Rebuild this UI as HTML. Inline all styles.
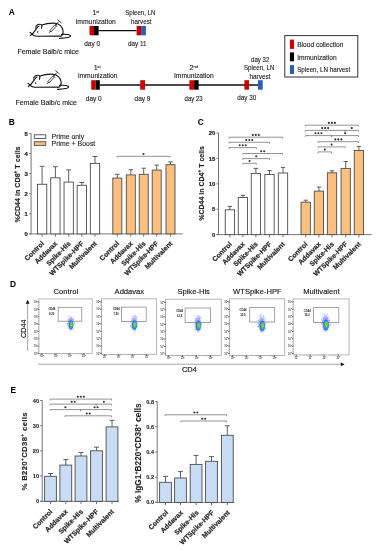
<!DOCTYPE html>
<html><head><meta charset="utf-8"><style>
html,body{margin:0;padding:0;background:#fff;width:377px;height:550px;overflow:hidden;}
svg{display:block;font-family:"Liberation Sans",sans-serif;will-change:transform;}
</style></head><body>
<svg width="377" height="550" viewBox="0 0 377 550">
<text x="8.70" y="14.60" font-size="8.4" font-weight="bold" text-anchor="start" fill="#000" font-family="Liberation Sans" >A</text>
<g transform="translate(0.00,0.00)" fill="none" stroke="#111" stroke-width="1.1" stroke-linecap="round" stroke-linejoin="round"><path d="M32.2,34.3 L36.3,28.9"/><path d="M36.3,28.9 C35.4,27.8 35.8,25.6 37.6,24.7 C39.2,23.9 41.2,24.2 41.8,25.4 C42.0,26.4 41.7,27.4 41.5,28.3"/><path d="M37.2,27.9 C37.5,26.9 38.2,26.2 39.1,26.0"/><path d="M42.0,25.0 C45.5,23.6 51,23.0 55,23.2 C59.2,23.6 62.4,26.8 63.1,31.0 C63.4,33.2 63.0,34.6 61.8,35.6"/><path d="M32.2,34.3 C33.4,35.7 35,36.2 37,36.3 L61.2,36.1"/><path d="M30.0,32.4 L32.6,34.4 M30.3,35.6 L32.4,33.7"/><path d="M61.6,34.4 C64.5,34.2 68.5,34.4 70.3,35.3 C71.0,36.0 70.3,36.8 68.8,37.3 C66,38.0 62.5,38.4 59.5,38.4"/><path stroke-width="0.75" d="M49.9,30.5 L55.0,24.8 L56.4,26.0 L51.3,31.7 Z"/><path stroke-width="0.75" d="M50.6,31.1 L49.2,32.7"/><path stroke-width="0.8" d="M54.5,23.3 L57.0,25.5 M55.8,24.9 L58.6,21.8 M57.7,19.8 L61.2,22.9"/></g>
<circle cx="37.60" cy="32.00" r="0.75" fill="#111"/>
<g transform="translate(-2.00,51.00)" fill="none" stroke="#111" stroke-width="1.1" stroke-linecap="round" stroke-linejoin="round"><path d="M32.2,34.3 L36.3,28.9"/><path d="M36.3,28.9 C35.4,27.8 35.8,25.6 37.6,24.7 C39.2,23.9 41.2,24.2 41.8,25.4 C42.0,26.4 41.7,27.4 41.5,28.3"/><path d="M37.2,27.9 C37.5,26.9 38.2,26.2 39.1,26.0"/><path d="M42.0,25.0 C45.5,23.6 51,23.0 55,23.2 C59.2,23.6 62.4,26.8 63.1,31.0 C63.4,33.2 63.0,34.6 61.8,35.6"/><path d="M32.2,34.3 C33.4,35.7 35,36.2 37,36.3 L61.2,36.1"/><path d="M30.0,32.4 L32.6,34.4 M30.3,35.6 L32.4,33.7"/><path d="M61.6,34.4 C64.5,34.2 68.5,34.4 70.3,35.3 C71.0,36.0 70.3,36.8 68.8,37.3 C66,38.0 62.5,38.4 59.5,38.4"/><path stroke-width="0.75" d="M49.9,30.5 L55.0,24.8 L56.4,26.0 L51.3,31.7 Z"/><path stroke-width="0.75" d="M50.6,31.1 L49.2,32.7"/><path stroke-width="0.8" d="M54.5,23.3 L57.0,25.5 M55.8,24.9 L58.6,21.8 M57.7,19.8 L61.2,22.9"/></g>
<circle cx="35.60" cy="83.00" r="0.75" fill="#111"/>
<text x="17.40" y="54.30" font-size="7.5" font-weight="normal" text-anchor="start" fill="#1a1a1a" font-family="Liberation Sans" stroke="#1a1a1a" stroke-width="0.12" textLength="61.60" lengthAdjust="spacingAndGlyphs" >Female Balb/c mice</text>
<text x="15.40" y="105.30" font-size="7.5" font-weight="normal" text-anchor="start" fill="#1a1a1a" font-family="Liberation Sans" stroke="#1a1a1a" stroke-width="0.12" textLength="61.60" lengthAdjust="spacingAndGlyphs" >Female Balb/c mice</text>
<line x1="98.50" y1="30.70" x2="136.60" y2="30.70" stroke="#111" stroke-width="1.3" />
<rect x="89.50" y="26.00" width="4.50" height="9.30" fill="#d00000" stroke="none" stroke-width="1" />
<rect x="94.00" y="26.00" width="4.60" height="9.30" fill="#000000" stroke="none" stroke-width="1" />
<rect x="136.60" y="26.00" width="4.50" height="9.30" fill="#d00000" stroke="none" stroke-width="1" />
<rect x="141.10" y="26.00" width="4.80" height="9.30" fill="#2d5cb0" stroke="none" stroke-width="1" />
<text x="92.40" y="15.30" font-size="7.2" font-weight="normal" text-anchor="start" fill="#1a1a1a" font-family="Liberation Sans" stroke="#1a1a1a" stroke-width="0.12" >1</text>
<text x="96.00" y="13.30" font-size="4.2" font-weight="normal" text-anchor="start" fill="#1a1a1a" font-family="Liberation Sans" stroke="#1a1a1a" stroke-width="0.1" >st</text>
<text x="75.80" y="23.90" font-size="7.2" font-weight="normal" text-anchor="start" fill="#1a1a1a" font-family="Liberation Sans" stroke="#1a1a1a" stroke-width="0.12" textLength="40.00" lengthAdjust="spacingAndGlyphs" >immunization</text>
<text x="84.20" y="45.80" font-size="7.2" font-weight="normal" text-anchor="start" fill="#1a1a1a" font-family="Liberation Sans" stroke="#1a1a1a" stroke-width="0.12" textLength="15.90" lengthAdjust="spacingAndGlyphs" >day 0</text>
<text x="125.30" y="15.30" font-size="7.2" font-weight="normal" text-anchor="start" fill="#1a1a1a" font-family="Liberation Sans" stroke="#1a1a1a" stroke-width="0.12" textLength="30.10" lengthAdjust="spacingAndGlyphs" >Spleen, LN</text>
<text x="131.00" y="23.60" font-size="7.2" font-weight="normal" text-anchor="start" fill="#1a1a1a" font-family="Liberation Sans" stroke="#1a1a1a" stroke-width="0.12" textLength="20.50" lengthAdjust="spacingAndGlyphs" >harvest</text>
<text x="128.00" y="45.80" font-size="7.2" font-weight="normal" text-anchor="start" fill="#1a1a1a" font-family="Liberation Sans" stroke="#1a1a1a" stroke-width="0.12" textLength="18.60" lengthAdjust="spacingAndGlyphs" >day 11</text>
<line x1="99.80" y1="85.00" x2="258.00" y2="85.00" stroke="#111" stroke-width="1.3" />
<rect x="91.20" y="80.20" width="4.40" height="9.50" fill="#d00000" stroke="none" stroke-width="1" />
<rect x="95.60" y="80.20" width="4.20" height="9.50" fill="#000000" stroke="none" stroke-width="1" />
<rect x="140.20" y="80.20" width="4.80" height="9.50" fill="#d00000" stroke="none" stroke-width="1" />
<rect x="189.40" y="80.20" width="4.80" height="9.50" fill="#d00000" stroke="none" stroke-width="1" />
<rect x="194.20" y="80.20" width="4.40" height="9.50" fill="#000000" stroke="none" stroke-width="1" />
<rect x="244.40" y="80.20" width="4.60" height="9.50" fill="#d00000" stroke="none" stroke-width="1" />
<rect x="257.90" y="80.20" width="4.80" height="9.50" fill="#2d5cb0" stroke="none" stroke-width="1" />
<text x="93.70" y="69.90" font-size="7.2" font-weight="normal" text-anchor="start" fill="#1a1a1a" font-family="Liberation Sans" stroke="#1a1a1a" stroke-width="0.12" >1</text>
<text x="97.30" y="68.00" font-size="4.2" font-weight="normal" text-anchor="start" fill="#1a1a1a" font-family="Liberation Sans" stroke="#1a1a1a" stroke-width="0.1" >st</text>
<text x="78.00" y="77.80" font-size="7.2" font-weight="normal" text-anchor="start" fill="#1a1a1a" font-family="Liberation Sans" stroke="#1a1a1a" stroke-width="0.12" textLength="39.50" lengthAdjust="spacingAndGlyphs" >immunization</text>
<text x="85.80" y="100.60" font-size="7.2" font-weight="normal" text-anchor="start" fill="#1a1a1a" font-family="Liberation Sans" stroke="#1a1a1a" stroke-width="0.12" textLength="15.90" lengthAdjust="spacingAndGlyphs" >day 0</text>
<text x="134.60" y="100.60" font-size="7.2" font-weight="normal" text-anchor="start" fill="#1a1a1a" font-family="Liberation Sans" stroke="#1a1a1a" stroke-width="0.12" textLength="15.90" lengthAdjust="spacingAndGlyphs" >day 9</text>
<text x="189.60" y="70.00" font-size="7.2" font-weight="normal" text-anchor="start" fill="#1a1a1a" font-family="Liberation Sans" stroke="#1a1a1a" stroke-width="0.12" >2</text>
<text x="193.40" y="68.30" font-size="4.2" font-weight="normal" text-anchor="start" fill="#1a1a1a" font-family="Liberation Sans" stroke="#1a1a1a" stroke-width="0.1" >nd</text>
<text x="174.00" y="78.00" font-size="7.2" font-weight="normal" text-anchor="start" fill="#1a1a1a" font-family="Liberation Sans" stroke="#1a1a1a" stroke-width="0.12" textLength="39.80" lengthAdjust="spacingAndGlyphs" >Immunization</text>
<text x="184.60" y="100.60" font-size="7.2" font-weight="normal" text-anchor="start" fill="#1a1a1a" font-family="Liberation Sans" stroke="#1a1a1a" stroke-width="0.12" textLength="18.00" lengthAdjust="spacingAndGlyphs" >day 23</text>
<text x="251.00" y="62.00" font-size="7.2" font-weight="normal" text-anchor="start" fill="#1a1a1a" font-family="Liberation Sans" stroke="#1a1a1a" stroke-width="0.12" textLength="18.30" lengthAdjust="spacingAndGlyphs" >day 32</text>
<text x="243.90" y="70.40" font-size="7.2" font-weight="normal" text-anchor="start" fill="#1a1a1a" font-family="Liberation Sans" stroke="#1a1a1a" stroke-width="0.12" textLength="30.50" lengthAdjust="spacingAndGlyphs" >Spleen, LN</text>
<text x="249.40" y="78.60" font-size="7.2" font-weight="normal" text-anchor="start" fill="#1a1a1a" font-family="Liberation Sans" stroke="#1a1a1a" stroke-width="0.12" textLength="21.20" lengthAdjust="spacingAndGlyphs" >harvest</text>
<text x="237.20" y="100.00" font-size="7.2" font-weight="normal" text-anchor="start" fill="#1a1a1a" font-family="Liberation Sans" stroke="#1a1a1a" stroke-width="0.12" textLength="19.10" lengthAdjust="spacingAndGlyphs" >day 30</text>
<rect x="284.80" y="35.60" width="73.00" height="41.40" fill="none" stroke="#333" stroke-width="1.0" />
<rect x="289.90" y="39.60" width="4.10" height="9.30" fill="#d00000" stroke="none" stroke-width="1" />
<rect x="289.90" y="52.40" width="4.10" height="8.90" fill="#000000" stroke="none" stroke-width="1" />
<rect x="289.90" y="65.10" width="4.10" height="8.90" fill="#2d5cb0" stroke="none" stroke-width="1" />
<text x="297.20" y="47.00" font-size="7.2" font-weight="normal" text-anchor="start" fill="#1a1a1a" font-family="Liberation Sans" stroke="#1a1a1a" stroke-width="0.12" textLength="46.20" lengthAdjust="spacingAndGlyphs" >Blood collection</text>
<text x="297.20" y="59.70" font-size="7.2" font-weight="normal" text-anchor="start" fill="#1a1a1a" font-family="Liberation Sans" stroke="#1a1a1a" stroke-width="0.12" textLength="39.50" lengthAdjust="spacingAndGlyphs" >Immunization</text>
<text x="297.20" y="72.40" font-size="7.2" font-weight="normal" text-anchor="start" fill="#1a1a1a" font-family="Liberation Sans" stroke="#1a1a1a" stroke-width="0.12" textLength="53.00" lengthAdjust="spacingAndGlyphs" >Spleen, LN harvest</text>
<text x="8.80" y="124.80" font-size="8.4" font-weight="bold" text-anchor="start" fill="#000" font-family="Liberation Sans" >B</text>
<line x1="31.10" y1="133.30" x2="31.10" y2="233.90" stroke="#666" stroke-width="0.9" />
<line x1="29.10" y1="233.90" x2="31.10" y2="233.90" stroke="#666" stroke-width="0.9" />
<text x="27.90" y="236.02" font-size="5.9" font-weight="bold" text-anchor="end" fill="#262626" font-family="Liberation Sans" stroke="#262626" stroke-width="0.22" >0</text>
<line x1="29.10" y1="213.80" x2="31.10" y2="213.80" stroke="#666" stroke-width="0.9" />
<text x="27.90" y="215.92" font-size="5.9" font-weight="bold" text-anchor="end" fill="#262626" font-family="Liberation Sans" stroke="#262626" stroke-width="0.22" >1</text>
<line x1="29.10" y1="193.70" x2="31.10" y2="193.70" stroke="#666" stroke-width="0.9" />
<text x="27.90" y="195.82" font-size="5.9" font-weight="bold" text-anchor="end" fill="#262626" font-family="Liberation Sans" stroke="#262626" stroke-width="0.22" >2</text>
<line x1="29.10" y1="173.60" x2="31.10" y2="173.60" stroke="#666" stroke-width="0.9" />
<text x="27.90" y="175.72" font-size="5.9" font-weight="bold" text-anchor="end" fill="#262626" font-family="Liberation Sans" stroke="#262626" stroke-width="0.22" >3</text>
<line x1="29.10" y1="153.50" x2="31.10" y2="153.50" stroke="#666" stroke-width="0.9" />
<text x="27.90" y="155.62" font-size="5.9" font-weight="bold" text-anchor="end" fill="#262626" font-family="Liberation Sans" stroke="#262626" stroke-width="0.22" >4</text>
<line x1="29.10" y1="133.40" x2="31.10" y2="133.40" stroke="#666" stroke-width="0.9" />
<text x="27.90" y="135.52" font-size="5.9" font-weight="bold" text-anchor="end" fill="#262626" font-family="Liberation Sans" stroke="#262626" stroke-width="0.22" >5</text>
<line x1="29.30" y1="233.90" x2="182.80" y2="233.90" stroke="#666" stroke-width="0.9" />
<line x1="42.10" y1="184.30" x2="42.10" y2="166.30" stroke="#4d4d4d" stroke-width="0.9" />
<line x1="39.70" y1="166.30" x2="44.50" y2="166.30" stroke="#4d4d4d" stroke-width="0.9" />
<rect x="37.45" y="184.30" width="9.30" height="49.60" fill="#fff" stroke="#4d4d4d" stroke-width="0.9" />
<line x1="55.40" y1="177.80" x2="55.40" y2="166.70" stroke="#4d4d4d" stroke-width="0.9" />
<line x1="53.00" y1="166.70" x2="57.80" y2="166.70" stroke="#4d4d4d" stroke-width="0.9" />
<rect x="50.75" y="177.80" width="9.30" height="56.10" fill="#fff" stroke="#4d4d4d" stroke-width="0.9" />
<line x1="68.70" y1="182.10" x2="68.70" y2="169.90" stroke="#4d4d4d" stroke-width="0.9" />
<line x1="66.30" y1="169.90" x2="71.10" y2="169.90" stroke="#4d4d4d" stroke-width="0.9" />
<rect x="64.05" y="182.10" width="9.30" height="51.80" fill="#fff" stroke="#4d4d4d" stroke-width="0.9" />
<line x1="81.80" y1="185.30" x2="81.80" y2="182.50" stroke="#4d4d4d" stroke-width="0.9" />
<line x1="79.40" y1="182.50" x2="84.20" y2="182.50" stroke="#4d4d4d" stroke-width="0.9" />
<rect x="77.15" y="185.30" width="9.30" height="48.60" fill="#fff" stroke="#4d4d4d" stroke-width="0.9" />
<line x1="95.00" y1="163.40" x2="95.00" y2="156.50" stroke="#4d4d4d" stroke-width="0.9" />
<line x1="92.60" y1="156.50" x2="97.40" y2="156.50" stroke="#4d4d4d" stroke-width="0.9" />
<rect x="90.35" y="163.40" width="9.30" height="70.50" fill="#fff" stroke="#4d4d4d" stroke-width="0.9" />
<line x1="117.30" y1="178.10" x2="117.30" y2="174.30" stroke="#4d4d4d" stroke-width="0.9" />
<line x1="115.10" y1="174.30" x2="119.50" y2="174.30" stroke="#4d4d4d" stroke-width="0.9" />
<rect x="112.80" y="178.10" width="9.00" height="55.80" fill="#fbbf7f" stroke="#4d4d4d" stroke-width="0.9" />
<line x1="130.80" y1="174.90" x2="130.80" y2="169.70" stroke="#4d4d4d" stroke-width="0.9" />
<line x1="128.60" y1="169.70" x2="133.00" y2="169.70" stroke="#4d4d4d" stroke-width="0.9" />
<rect x="126.30" y="174.90" width="9.00" height="59.00" fill="#fbbf7f" stroke="#4d4d4d" stroke-width="0.9" />
<line x1="143.70" y1="174.30" x2="143.70" y2="168.20" stroke="#4d4d4d" stroke-width="0.9" />
<line x1="141.50" y1="168.20" x2="145.90" y2="168.20" stroke="#4d4d4d" stroke-width="0.9" />
<rect x="139.20" y="174.30" width="9.00" height="59.60" fill="#fbbf7f" stroke="#4d4d4d" stroke-width="0.9" />
<line x1="156.70" y1="170.10" x2="156.70" y2="165.10" stroke="#4d4d4d" stroke-width="0.9" />
<line x1="154.50" y1="165.10" x2="158.90" y2="165.10" stroke="#4d4d4d" stroke-width="0.9" />
<rect x="152.20" y="170.10" width="9.00" height="63.80" fill="#fbbf7f" stroke="#4d4d4d" stroke-width="0.9" />
<line x1="170.50" y1="164.70" x2="170.50" y2="161.90" stroke="#4d4d4d" stroke-width="0.9" />
<line x1="168.30" y1="161.90" x2="172.70" y2="161.90" stroke="#4d4d4d" stroke-width="0.9" />
<rect x="166.00" y="164.70" width="9.00" height="69.20" fill="#fbbf7f" stroke="#4d4d4d" stroke-width="0.9" />
<line x1="42.10" y1="233.90" x2="42.10" y2="236.70" stroke="#666" stroke-width="0.9" />
<line x1="55.40" y1="233.90" x2="55.40" y2="236.70" stroke="#666" stroke-width="0.9" />
<line x1="68.70" y1="233.90" x2="68.70" y2="236.70" stroke="#666" stroke-width="0.9" />
<line x1="81.80" y1="233.90" x2="81.80" y2="236.70" stroke="#666" stroke-width="0.9" />
<line x1="95.00" y1="233.90" x2="95.00" y2="236.70" stroke="#666" stroke-width="0.9" />
<line x1="117.30" y1="233.90" x2="117.30" y2="236.70" stroke="#666" stroke-width="0.9" />
<line x1="130.80" y1="233.90" x2="130.80" y2="236.70" stroke="#666" stroke-width="0.9" />
<line x1="143.70" y1="233.90" x2="143.70" y2="236.70" stroke="#666" stroke-width="0.9" />
<line x1="156.70" y1="233.90" x2="156.70" y2="236.70" stroke="#666" stroke-width="0.9" />
<line x1="170.50" y1="233.90" x2="170.50" y2="236.70" stroke="#666" stroke-width="0.9" />
<text x="44.50" y="244.00" font-size="6.9" font-weight="bold" text-anchor="end" fill="#262626" font-family="Liberation Sans" stroke="#262626" stroke-width="0.2" transform="rotate(-45 44.50 244.00)" >Control</text>
<text x="57.80" y="244.00" font-size="6.9" font-weight="bold" text-anchor="end" fill="#262626" font-family="Liberation Sans" stroke="#262626" stroke-width="0.2" transform="rotate(-45 57.80 244.00)" >Addavax</text>
<text x="71.10" y="244.00" font-size="6.9" font-weight="bold" text-anchor="end" fill="#262626" font-family="Liberation Sans" stroke="#262626" stroke-width="0.2" transform="rotate(-45 71.10 244.00)" >Spike-His</text>
<text x="84.20" y="244.00" font-size="6.9" font-weight="bold" text-anchor="end" fill="#262626" font-family="Liberation Sans" stroke="#262626" stroke-width="0.2" transform="rotate(-45 84.20 244.00)" >WTSpike-HPF</text>
<text x="97.40" y="244.00" font-size="6.9" font-weight="bold" text-anchor="end" fill="#262626" font-family="Liberation Sans" stroke="#262626" stroke-width="0.2" transform="rotate(-45 97.40 244.00)" >Multivalent</text>
<text x="119.70" y="244.00" font-size="6.9" font-weight="bold" text-anchor="end" fill="#262626" font-family="Liberation Sans" stroke="#262626" stroke-width="0.2" transform="rotate(-45 119.70 244.00)" >Control</text>
<text x="133.20" y="244.00" font-size="6.9" font-weight="bold" text-anchor="end" fill="#262626" font-family="Liberation Sans" stroke="#262626" stroke-width="0.2" transform="rotate(-45 133.20 244.00)" >Addavax</text>
<text x="146.10" y="244.00" font-size="6.9" font-weight="bold" text-anchor="end" fill="#262626" font-family="Liberation Sans" stroke="#262626" stroke-width="0.2" transform="rotate(-45 146.10 244.00)" >Spike-His</text>
<text x="159.10" y="244.00" font-size="6.9" font-weight="bold" text-anchor="end" fill="#262626" font-family="Liberation Sans" stroke="#262626" stroke-width="0.2" transform="rotate(-45 159.10 244.00)" >WTSpike-HPF</text>
<text x="172.90" y="244.00" font-size="6.9" font-weight="bold" text-anchor="end" fill="#262626" font-family="Liberation Sans" stroke="#262626" stroke-width="0.2" transform="rotate(-45 172.90 244.00)" >Multivalent</text>
<path d="M117.00,157.60 L117.00,156.30 L170.00,156.30 L170.00,157.60" fill="none" stroke="#666" stroke-width="0.7"/>
<circle cx="143.50" cy="154.00" r="1.05" fill="#333"/>
<rect x="34.30" y="134.80" width="11.50" height="3.70" fill="#fff" stroke="#4d4d4d" stroke-width="0.9" />
<rect x="34.30" y="141.70" width="11.50" height="3.70" fill="#fbbf7f" stroke="#4d4d4d" stroke-width="0.9" />
<text x="51.60" y="138.90" font-size="6.9" font-weight="normal" text-anchor="start" fill="#262626" font-family="Liberation Sans" stroke="#262626" stroke-width="0.12" textLength="32.50" lengthAdjust="spacingAndGlyphs" >Prime only</text>
<text x="51.60" y="145.50" font-size="6.9" font-weight="normal" text-anchor="start" fill="#262626" font-family="Liberation Sans" stroke="#262626" stroke-width="0.12" textLength="43.70" lengthAdjust="spacingAndGlyphs" >Prime + Boost</text>
<text x="20.00" y="184.50" font-size="7.15" font-weight="bold" text-anchor="middle" fill="#262626" font-family="Liberation Sans" stroke="#262626" stroke-width="0.15" transform="rotate(-90 20.00 184.50)" >%CD44 in CD8<tspan font-size="4.7" dy="-2.7">+</tspan><tspan dy="2.7"> T cells</tspan></text>
<text x="197.70" y="124.80" font-size="8.4" font-weight="bold" text-anchor="start" fill="#000" font-family="Liberation Sans" >C</text>
<line x1="218.50" y1="133.00" x2="218.50" y2="234.60" stroke="#666" stroke-width="0.9" />
<line x1="216.50" y1="234.60" x2="218.50" y2="234.60" stroke="#666" stroke-width="0.9" />
<text x="215.30" y="236.72" font-size="5.9" font-weight="bold" text-anchor="end" fill="#262626" font-family="Liberation Sans" stroke="#262626" stroke-width="0.22" >0</text>
<line x1="216.50" y1="209.20" x2="218.50" y2="209.20" stroke="#666" stroke-width="0.9" />
<text x="215.30" y="211.32" font-size="5.9" font-weight="bold" text-anchor="end" fill="#262626" font-family="Liberation Sans" stroke="#262626" stroke-width="0.22" >5</text>
<line x1="216.50" y1="183.80" x2="218.50" y2="183.80" stroke="#666" stroke-width="0.9" />
<text x="215.30" y="185.92" font-size="5.9" font-weight="bold" text-anchor="end" fill="#262626" font-family="Liberation Sans" stroke="#262626" stroke-width="0.22" >10</text>
<line x1="216.50" y1="158.40" x2="218.50" y2="158.40" stroke="#666" stroke-width="0.9" />
<text x="215.30" y="160.52" font-size="5.9" font-weight="bold" text-anchor="end" fill="#262626" font-family="Liberation Sans" stroke="#262626" stroke-width="0.22" >15</text>
<line x1="216.50" y1="133.00" x2="218.50" y2="133.00" stroke="#666" stroke-width="0.9" />
<text x="215.30" y="135.12" font-size="5.9" font-weight="bold" text-anchor="end" fill="#262626" font-family="Liberation Sans" stroke="#262626" stroke-width="0.22" >20</text>
<line x1="216.50" y1="234.60" x2="371.60" y2="234.60" stroke="#666" stroke-width="0.9" />
<line x1="229.90" y1="209.80" x2="229.90" y2="206.40" stroke="#4d4d4d" stroke-width="0.9" />
<line x1="227.70" y1="206.40" x2="232.10" y2="206.40" stroke="#4d4d4d" stroke-width="0.9" />
<rect x="225.25" y="209.80" width="9.30" height="24.80" fill="#fff" stroke="#4d4d4d" stroke-width="0.9" />
<line x1="242.90" y1="197.50" x2="242.90" y2="195.30" stroke="#4d4d4d" stroke-width="0.9" />
<line x1="240.70" y1="195.30" x2="245.10" y2="195.30" stroke="#4d4d4d" stroke-width="0.9" />
<rect x="238.25" y="197.50" width="9.30" height="37.10" fill="#fff" stroke="#4d4d4d" stroke-width="0.9" />
<line x1="255.90" y1="173.40" x2="255.90" y2="168.40" stroke="#4d4d4d" stroke-width="0.9" />
<line x1="253.70" y1="168.40" x2="258.10" y2="168.40" stroke="#4d4d4d" stroke-width="0.9" />
<rect x="251.25" y="173.40" width="9.30" height="61.20" fill="#fff" stroke="#4d4d4d" stroke-width="0.9" />
<line x1="269.50" y1="174.50" x2="269.50" y2="170.60" stroke="#4d4d4d" stroke-width="0.9" />
<line x1="267.30" y1="170.60" x2="271.70" y2="170.60" stroke="#4d4d4d" stroke-width="0.9" />
<rect x="264.85" y="174.50" width="9.30" height="60.10" fill="#fff" stroke="#4d4d4d" stroke-width="0.9" />
<line x1="283.00" y1="173.00" x2="283.00" y2="167.40" stroke="#4d4d4d" stroke-width="0.9" />
<line x1="280.80" y1="167.40" x2="285.20" y2="167.40" stroke="#4d4d4d" stroke-width="0.9" />
<rect x="278.35" y="173.00" width="9.30" height="61.60" fill="#fff" stroke="#4d4d4d" stroke-width="0.9" />
<line x1="305.70" y1="202.20" x2="305.70" y2="200.20" stroke="#4d4d4d" stroke-width="0.9" />
<line x1="303.50" y1="200.20" x2="307.90" y2="200.20" stroke="#4d4d4d" stroke-width="0.9" />
<rect x="301.05" y="202.20" width="9.30" height="32.40" fill="#fbbf7f" stroke="#4d4d4d" stroke-width="0.9" />
<line x1="318.90" y1="191.10" x2="318.90" y2="187.10" stroke="#4d4d4d" stroke-width="0.9" />
<line x1="316.70" y1="187.10" x2="321.10" y2="187.10" stroke="#4d4d4d" stroke-width="0.9" />
<rect x="314.25" y="191.10" width="9.30" height="43.50" fill="#fbbf7f" stroke="#4d4d4d" stroke-width="0.9" />
<line x1="332.00" y1="172.80" x2="332.00" y2="170.80" stroke="#4d4d4d" stroke-width="0.9" />
<line x1="329.80" y1="170.80" x2="334.20" y2="170.80" stroke="#4d4d4d" stroke-width="0.9" />
<rect x="327.35" y="172.80" width="9.30" height="61.80" fill="#fbbf7f" stroke="#4d4d4d" stroke-width="0.9" />
<line x1="345.70" y1="168.40" x2="345.70" y2="161.50" stroke="#4d4d4d" stroke-width="0.9" />
<line x1="343.50" y1="161.50" x2="347.90" y2="161.50" stroke="#4d4d4d" stroke-width="0.9" />
<rect x="341.05" y="168.40" width="9.30" height="66.20" fill="#fbbf7f" stroke="#4d4d4d" stroke-width="0.9" />
<line x1="358.90" y1="150.50" x2="358.90" y2="146.40" stroke="#4d4d4d" stroke-width="0.9" />
<line x1="356.70" y1="146.40" x2="361.10" y2="146.40" stroke="#4d4d4d" stroke-width="0.9" />
<rect x="354.25" y="150.50" width="9.30" height="84.10" fill="#fbbf7f" stroke="#4d4d4d" stroke-width="0.9" />
<line x1="229.90" y1="234.60" x2="229.90" y2="237.40" stroke="#666" stroke-width="0.9" />
<line x1="242.90" y1="234.60" x2="242.90" y2="237.40" stroke="#666" stroke-width="0.9" />
<line x1="255.90" y1="234.60" x2="255.90" y2="237.40" stroke="#666" stroke-width="0.9" />
<line x1="269.50" y1="234.60" x2="269.50" y2="237.40" stroke="#666" stroke-width="0.9" />
<line x1="283.00" y1="234.60" x2="283.00" y2="237.40" stroke="#666" stroke-width="0.9" />
<line x1="305.70" y1="234.60" x2="305.70" y2="237.40" stroke="#666" stroke-width="0.9" />
<line x1="318.90" y1="234.60" x2="318.90" y2="237.40" stroke="#666" stroke-width="0.9" />
<line x1="332.00" y1="234.60" x2="332.00" y2="237.40" stroke="#666" stroke-width="0.9" />
<line x1="345.70" y1="234.60" x2="345.70" y2="237.40" stroke="#666" stroke-width="0.9" />
<line x1="358.90" y1="234.60" x2="358.90" y2="237.40" stroke="#666" stroke-width="0.9" />
<text x="232.30" y="244.60" font-size="6.9" font-weight="bold" text-anchor="end" fill="#262626" font-family="Liberation Sans" stroke="#262626" stroke-width="0.2" transform="rotate(-45 232.30 244.60)" >Control</text>
<text x="245.30" y="244.60" font-size="6.9" font-weight="bold" text-anchor="end" fill="#262626" font-family="Liberation Sans" stroke="#262626" stroke-width="0.2" transform="rotate(-45 245.30 244.60)" >Addavax</text>
<text x="258.30" y="244.60" font-size="6.9" font-weight="bold" text-anchor="end" fill="#262626" font-family="Liberation Sans" stroke="#262626" stroke-width="0.2" transform="rotate(-45 258.30 244.60)" >Spike-His</text>
<text x="271.90" y="244.60" font-size="6.9" font-weight="bold" text-anchor="end" fill="#262626" font-family="Liberation Sans" stroke="#262626" stroke-width="0.2" transform="rotate(-45 271.90 244.60)" >WTSpike-HPF</text>
<text x="285.40" y="244.60" font-size="6.9" font-weight="bold" text-anchor="end" fill="#262626" font-family="Liberation Sans" stroke="#262626" stroke-width="0.2" transform="rotate(-45 285.40 244.60)" >Multivalent</text>
<text x="308.10" y="244.60" font-size="6.9" font-weight="bold" text-anchor="end" fill="#262626" font-family="Liberation Sans" stroke="#262626" stroke-width="0.2" transform="rotate(-45 308.10 244.60)" >Control</text>
<text x="321.30" y="244.60" font-size="6.9" font-weight="bold" text-anchor="end" fill="#262626" font-family="Liberation Sans" stroke="#262626" stroke-width="0.2" transform="rotate(-45 321.30 244.60)" >Addavax</text>
<text x="334.40" y="244.60" font-size="6.9" font-weight="bold" text-anchor="end" fill="#262626" font-family="Liberation Sans" stroke="#262626" stroke-width="0.2" transform="rotate(-45 334.40 244.60)" >Spike-His</text>
<text x="348.10" y="244.60" font-size="6.9" font-weight="bold" text-anchor="end" fill="#262626" font-family="Liberation Sans" stroke="#262626" stroke-width="0.2" transform="rotate(-45 348.10 244.60)" >WTSpike-HPF</text>
<text x="361.30" y="244.60" font-size="6.9" font-weight="bold" text-anchor="end" fill="#262626" font-family="Liberation Sans" stroke="#262626" stroke-width="0.2" transform="rotate(-45 361.30 244.60)" >Multivalent</text>
<path d="M229.00,138.50 L229.00,137.20 L282.60,137.20 L282.60,138.50" fill="none" stroke="#666" stroke-width="0.7"/>
<circle cx="252.80" cy="134.90" r="1.05" fill="#333"/>
<circle cx="255.80" cy="134.90" r="1.05" fill="#333"/>
<circle cx="258.80" cy="134.90" r="1.05" fill="#333"/>
<path d="M229.00,143.60 L229.00,142.30 L269.60,142.30 L269.60,143.60" fill="none" stroke="#666" stroke-width="0.7"/>
<circle cx="246.30" cy="140.00" r="1.05" fill="#333"/>
<circle cx="249.30" cy="140.00" r="1.05" fill="#333"/>
<circle cx="252.30" cy="140.00" r="1.05" fill="#333"/>
<path d="M229.00,148.90 L229.00,147.60 L256.40,147.60 L256.40,148.90" fill="none" stroke="#666" stroke-width="0.7"/>
<circle cx="239.70" cy="145.30" r="1.05" fill="#333"/>
<circle cx="242.70" cy="145.30" r="1.05" fill="#333"/>
<circle cx="245.70" cy="145.30" r="1.05" fill="#333"/>
<path d="M242.80,154.80 L242.80,153.50 L282.60,153.50 L282.60,154.80" fill="none" stroke="#666" stroke-width="0.7"/>
<circle cx="261.20" cy="151.20" r="1.05" fill="#333"/>
<circle cx="264.20" cy="151.20" r="1.05" fill="#333"/>
<path d="M242.80,159.90 L242.80,158.60 L269.60,158.60 L269.60,159.90" fill="none" stroke="#666" stroke-width="0.7"/>
<circle cx="256.20" cy="156.30" r="1.05" fill="#333"/>
<path d="M242.80,164.60 L242.80,163.30 L256.40,163.30 L256.40,164.60" fill="none" stroke="#666" stroke-width="0.7"/>
<circle cx="249.60" cy="161.00" r="1.05" fill="#333"/>
<path d="M305.20,126.50 L305.20,125.20 L358.60,125.20 L358.60,126.50" fill="none" stroke="#666" stroke-width="0.7"/>
<circle cx="328.90" cy="122.90" r="1.05" fill="#333"/>
<circle cx="331.90" cy="122.90" r="1.05" fill="#333"/>
<circle cx="334.90" cy="122.90" r="1.05" fill="#333"/>
<path d="M305.20,131.70 L305.20,130.40 L345.00,130.40 L345.00,131.70" fill="none" stroke="#666" stroke-width="0.7"/>
<circle cx="322.10" cy="128.10" r="1.05" fill="#333"/>
<circle cx="325.10" cy="128.10" r="1.05" fill="#333"/>
<circle cx="328.10" cy="128.10" r="1.05" fill="#333"/>
<path d="M345.00,131.70 L345.00,130.40 L358.60,130.40 L358.60,131.70" fill="none" stroke="#666" stroke-width="0.7"/>
<circle cx="351.80" cy="128.10" r="1.05" fill="#333"/>
<path d="M305.20,136.90 L305.20,135.60 L331.60,135.60 L331.60,136.90" fill="none" stroke="#666" stroke-width="0.7"/>
<circle cx="315.40" cy="133.30" r="1.05" fill="#333"/>
<circle cx="318.40" cy="133.30" r="1.05" fill="#333"/>
<circle cx="321.40" cy="133.30" r="1.05" fill="#333"/>
<path d="M331.60,136.90 L331.60,135.60 L358.60,135.60 L358.60,136.90" fill="none" stroke="#666" stroke-width="0.7"/>
<circle cx="345.10" cy="133.30" r="1.05" fill="#333"/>
<path d="M318.10,143.00 L318.10,141.70 L358.60,141.70 L358.60,143.00" fill="none" stroke="#666" stroke-width="0.7"/>
<circle cx="335.35" cy="139.40" r="1.05" fill="#333"/>
<circle cx="338.35" cy="139.40" r="1.05" fill="#333"/>
<circle cx="341.35" cy="139.40" r="1.05" fill="#333"/>
<path d="M318.10,148.20 L318.10,146.90 L345.20,146.90 L345.20,148.20" fill="none" stroke="#666" stroke-width="0.7"/>
<circle cx="331.65" cy="144.60" r="1.05" fill="#333"/>
<path d="M318.10,153.20 L318.10,151.90 L331.60,151.90 L331.60,153.20" fill="none" stroke="#666" stroke-width="0.7"/>
<circle cx="324.85" cy="149.60" r="1.05" fill="#333"/>
<text x="204.00" y="183.40" font-size="7.0" font-weight="bold" text-anchor="middle" fill="#262626" font-family="Liberation Sans" stroke="#262626" stroke-width="0.15" transform="rotate(-90 204.00 183.40)" >%CD44 in CD4<tspan font-size="4.7" dy="-2.7">+</tspan><tspan dy="2.7"> T cells</tspan></text>
<text x="10.10" y="286.90" font-size="8.4" font-weight="bold" text-anchor="start" fill="#000" font-family="Liberation Sans" >D</text>
<defs><filter id="bl" x="-50%" y="-50%" width="200%" height="200%"><feGaussianBlur stdDeviation="0.55"/></filter><filter id="bl2" x="-50%" y="-50%" width="200%" height="200%"><feGaussianBlur stdDeviation="1.0"/></filter></defs>
<rect x="38.90" y="298.90" width="53.30" height="54.70" fill="#fff" stroke="#b0b0b0" stroke-width="0.9" />
<text x="65.85" y="294.40" font-size="7.6" font-weight="normal" text-anchor="middle" fill="#111" font-family="Liberation Sans" stroke="#111" stroke-width="0.12" >Control</text>
<rect x="58.20" y="307.30" width="23.60" height="13.90" fill="none" stroke="#8a8a8a" stroke-width="0.8" />
<g transform="translate(71.30,324.40) scale(0.9)"><circle cx="-2.49" cy="1.79" r="0.51" fill="#2080ff" opacity="0.51"/><circle cx="-0.78" cy="5.37" r="0.58" fill="#7070ff" opacity="0.29"/><circle cx="0.42" cy="-5.96" r="0.53" fill="#5060ff" opacity="0.64"/><circle cx="0.17" cy="1.66" r="0.32" fill="#5060ff" opacity="0.29"/><circle cx="-3.95" cy="0.92" r="0.48" fill="#2080ff" opacity="0.64"/><circle cx="0.31" cy="-7.82" r="0.43" fill="#3050ff" opacity="0.28"/><circle cx="0.29" cy="3.84" r="0.57" fill="#7070ff" opacity="0.64"/><circle cx="2.30" cy="4.24" r="0.33" fill="#3050ff" opacity="0.31"/><circle cx="-2.00" cy="0.45" r="0.35" fill="#2080ff" opacity="0.44"/><circle cx="-2.54" cy="5.40" r="0.51" fill="#5060ff" opacity="0.49"/><circle cx="2.25" cy="-4.75" r="0.54" fill="#7070ff" opacity="0.57"/><circle cx="-3.92" cy="3.74" r="0.50" fill="#2080ff" opacity="0.55"/><circle cx="1.57" cy="0.04" r="0.34" fill="#2080ff" opacity="0.43"/><circle cx="-2.45" cy="-1.93" r="0.34" fill="#3050ff" opacity="0.47"/><circle cx="0.61" cy="1.90" r="0.48" fill="#3050ff" opacity="0.42"/><circle cx="-3.30" cy="2.29" r="0.48" fill="#7070ff" opacity="0.32"/><circle cx="-1.74" cy="-4.79" r="0.58" fill="#5060ff" opacity="0.61"/><circle cx="2.58" cy="-5.51" r="0.43" fill="#5060ff" opacity="0.48"/><circle cx="-2.80" cy="0.83" r="0.55" fill="#5060ff" opacity="0.44"/><circle cx="-4.05" cy="-0.86" r="0.56" fill="#3050ff" opacity="0.56"/><circle cx="-4.14" cy="-3.21" r="0.34" fill="#2080ff" opacity="0.61"/><circle cx="-4.42" cy="-4.06" r="0.32" fill="#3050ff" opacity="0.44"/><circle cx="-2.00" cy="-0.07" r="0.57" fill="#2080ff" opacity="0.32"/><circle cx="2.70" cy="-3.76" r="0.39" fill="#7070ff" opacity="0.30"/><circle cx="3.56" cy="-0.35" r="0.33" fill="#2080ff" opacity="0.59"/><circle cx="-2.18" cy="6.56" r="0.43" fill="#3050ff" opacity="0.55"/><circle cx="2.44" cy="4.20" r="0.44" fill="#3050ff" opacity="0.33"/><circle cx="3.49" cy="-2.29" r="0.39" fill="#5060ff" opacity="0.63"/><circle cx="-2.05" cy="2.94" r="0.41" fill="#3050ff" opacity="0.44"/><circle cx="-0.14" cy="3.33" r="0.52" fill="#2080ff" opacity="0.38"/><circle cx="3.62" cy="-0.84" r="0.45" fill="#7070ff" opacity="0.54"/><circle cx="-3.49" cy="-1.17" r="0.50" fill="#3050ff" opacity="0.43"/><circle cx="-3.46" cy="1.23" r="0.34" fill="#7070ff" opacity="0.55"/><circle cx="-1.53" cy="6.63" r="0.33" fill="#5060ff" opacity="0.30"/><circle cx="-3.21" cy="-3.45" r="0.58" fill="#2080ff" opacity="0.63"/><circle cx="-4.04" cy="-4.34" r="0.37" fill="#2080ff" opacity="0.37"/><circle cx="-1.55" cy="3.59" r="0.44" fill="#5060ff" opacity="0.33"/><circle cx="-3.19" cy="-5.33" r="0.35" fill="#5060ff" opacity="0.61"/><circle cx="-2.32" cy="-9.12" r="0.47" fill="#3050ff" opacity="0.63"/><circle cx="-2.52" cy="2.11" r="0.54" fill="#2080ff" opacity="0.26"/><circle cx="-0.18" cy="-5.72" r="0.46" fill="#8080ff" opacity="0.60"/><circle cx="3.69" cy="0.04" r="0.41" fill="#3050ff" opacity="0.62"/><circle cx="-3.36" cy="-5.68" r="0.57" fill="#7070ff" opacity="0.27"/><circle cx="0.56" cy="-6.42" r="0.48" fill="#3050ff" opacity="0.57"/><circle cx="2.97" cy="-4.88" r="0.55" fill="#3050ff" opacity="0.44"/><circle cx="1.21" cy="0.92" r="0.30" fill="#3050ff" opacity="0.47"/><circle cx="-4.14" cy="-3.19" r="0.43" fill="#8080ff" opacity="0.39"/><circle cx="3.60" cy="-1.57" r="0.45" fill="#5060ff" opacity="0.53"/><circle cx="2.16" cy="-5.86" r="0.39" fill="#2080ff" opacity="0.58"/><circle cx="1.18" cy="-2.98" r="0.46" fill="#5060ff" opacity="0.41"/><circle cx="-3.34" cy="-3.09" r="0.49" fill="#2080ff" opacity="0.58"/><circle cx="-0.51" cy="-6.47" r="0.36" fill="#5060ff" opacity="0.31"/><circle cx="1.97" cy="-5.88" r="0.40" fill="#2080ff" opacity="0.64"/><circle cx="-0.32" cy="6.22" r="0.45" fill="#5060ff" opacity="0.37"/><circle cx="-3.01" cy="-5.49" r="0.31" fill="#8080ff" opacity="0.48"/><circle cx="-4.45" cy="-2.57" r="0.52" fill="#8080ff" opacity="0.40"/><circle cx="1.20" cy="-3.56" r="0.42" fill="#7070ff" opacity="0.58"/><circle cx="2.31" cy="-5.25" r="0.46" fill="#3050ff" opacity="0.46"/><circle cx="-2.23" cy="-2.71" r="0.49" fill="#8080ff" opacity="0.56"/><circle cx="-3.82" cy="0.73" r="0.60" fill="#8080ff" opacity="0.31"/><ellipse cx="-0.8" cy="-6.5" rx="2.8" ry="3.4" fill="#9090ff" opacity="0.3" filter="url(#bl2)"/><ellipse cx="-0.5" cy="-0.6" rx="3.4" ry="7.0" fill="#6070ff" opacity="0.4" filter="url(#bl)"/><ellipse cx="-0.3" cy="0.4" rx="2.5" ry="5.0" fill="#2a58f5" opacity="0.85" filter="url(#bl)"/><ellipse cx="0" cy="0.4" rx="1.9" ry="3.8" fill="#10b0e0" filter="url(#bl)"/><ellipse cx="0.1" cy="0.2" rx="1.5" ry="3.0" fill="#38d040" filter="url(#bl)"/><ellipse cx="0.1" cy="0" rx="0.9" ry="1.7" fill="#c8d820" filter="url(#bl)"/><ellipse cx="0.1" cy="-0.1" rx="0.55" ry="0.9" fill="#f08000" filter="url(#bl)"/></g>
<text x="48.40" y="310.40" font-size="2.7" font-weight="bold" text-anchor="start" fill="#333" font-family="Liberation Sans" stroke="#333" stroke-width="0.05" >CD44</text>
<text x="49.10" y="314.90" font-size="2.7" font-weight="bold" text-anchor="start" fill="#333" font-family="Liberation Sans" stroke="#333" stroke-width="0.05" >8.20</text>
<line x1="37.50" y1="302.10" x2="39.20" y2="302.10" stroke="#444" stroke-width="0.8" />
<text x="33.70" y="303.20" font-size="2.6" font-weight="normal" text-anchor="start" fill="#555" font-family="Liberation Sans" stroke="#555" stroke-width="0.08" >10</text>
<text x="36.60" y="301.60" font-size="1.8" font-weight="normal" text-anchor="start" fill="#555" font-family="Liberation Sans" stroke="#555" stroke-width="0.05" >2</text>
<line x1="38.30" y1="304.30" x2="38.90" y2="304.30" stroke="#888" stroke-width="0.5" />
<line x1="38.30" y1="305.80" x2="38.90" y2="305.80" stroke="#888" stroke-width="0.5" />
<line x1="38.30" y1="306.90" x2="38.90" y2="306.90" stroke="#888" stroke-width="0.5" />
<line x1="38.30" y1="307.70" x2="38.90" y2="307.70" stroke="#888" stroke-width="0.5" />
<line x1="37.50" y1="309.45" x2="39.20" y2="309.45" stroke="#444" stroke-width="0.8" />
<text x="33.70" y="310.55" font-size="2.6" font-weight="normal" text-anchor="start" fill="#555" font-family="Liberation Sans" stroke="#555" stroke-width="0.08" >10</text>
<text x="36.60" y="308.95" font-size="1.8" font-weight="normal" text-anchor="start" fill="#555" font-family="Liberation Sans" stroke="#555" stroke-width="0.05" >2</text>
<line x1="38.30" y1="311.65" x2="38.90" y2="311.65" stroke="#888" stroke-width="0.5" />
<line x1="38.30" y1="313.15" x2="38.90" y2="313.15" stroke="#888" stroke-width="0.5" />
<line x1="38.30" y1="314.25" x2="38.90" y2="314.25" stroke="#888" stroke-width="0.5" />
<line x1="38.30" y1="315.05" x2="38.90" y2="315.05" stroke="#888" stroke-width="0.5" />
<line x1="37.50" y1="316.80" x2="39.20" y2="316.80" stroke="#444" stroke-width="0.8" />
<text x="33.70" y="317.90" font-size="2.6" font-weight="normal" text-anchor="start" fill="#555" font-family="Liberation Sans" stroke="#555" stroke-width="0.08" >10</text>
<text x="36.60" y="316.30" font-size="1.8" font-weight="normal" text-anchor="start" fill="#555" font-family="Liberation Sans" stroke="#555" stroke-width="0.05" >2</text>
<line x1="38.30" y1="319.00" x2="38.90" y2="319.00" stroke="#888" stroke-width="0.5" />
<line x1="38.30" y1="320.50" x2="38.90" y2="320.50" stroke="#888" stroke-width="0.5" />
<line x1="38.30" y1="321.60" x2="38.90" y2="321.60" stroke="#888" stroke-width="0.5" />
<line x1="38.30" y1="322.40" x2="38.90" y2="322.40" stroke="#888" stroke-width="0.5" />
<line x1="37.50" y1="324.15" x2="39.20" y2="324.15" stroke="#444" stroke-width="0.8" />
<text x="33.70" y="325.25" font-size="2.6" font-weight="normal" text-anchor="start" fill="#555" font-family="Liberation Sans" stroke="#555" stroke-width="0.08" >10</text>
<text x="36.60" y="323.65" font-size="1.8" font-weight="normal" text-anchor="start" fill="#555" font-family="Liberation Sans" stroke="#555" stroke-width="0.05" >2</text>
<line x1="38.30" y1="326.35" x2="38.90" y2="326.35" stroke="#888" stroke-width="0.5" />
<line x1="38.30" y1="327.85" x2="38.90" y2="327.85" stroke="#888" stroke-width="0.5" />
<line x1="38.30" y1="328.95" x2="38.90" y2="328.95" stroke="#888" stroke-width="0.5" />
<line x1="38.30" y1="329.75" x2="38.90" y2="329.75" stroke="#888" stroke-width="0.5" />
<line x1="37.50" y1="331.50" x2="39.20" y2="331.50" stroke="#444" stroke-width="0.8" />
<text x="33.70" y="332.60" font-size="2.6" font-weight="normal" text-anchor="start" fill="#555" font-family="Liberation Sans" stroke="#555" stroke-width="0.08" >10</text>
<text x="36.60" y="331.00" font-size="1.8" font-weight="normal" text-anchor="start" fill="#555" font-family="Liberation Sans" stroke="#555" stroke-width="0.05" >2</text>
<line x1="38.30" y1="333.70" x2="38.90" y2="333.70" stroke="#888" stroke-width="0.5" />
<line x1="38.30" y1="335.20" x2="38.90" y2="335.20" stroke="#888" stroke-width="0.5" />
<line x1="38.30" y1="336.30" x2="38.90" y2="336.30" stroke="#888" stroke-width="0.5" />
<line x1="38.30" y1="337.10" x2="38.90" y2="337.10" stroke="#888" stroke-width="0.5" />
<line x1="37.50" y1="338.85" x2="39.20" y2="338.85" stroke="#444" stroke-width="0.8" />
<text x="33.70" y="339.95" font-size="2.6" font-weight="normal" text-anchor="start" fill="#555" font-family="Liberation Sans" stroke="#555" stroke-width="0.08" >10</text>
<text x="36.60" y="338.35" font-size="1.8" font-weight="normal" text-anchor="start" fill="#555" font-family="Liberation Sans" stroke="#555" stroke-width="0.05" >2</text>
<line x1="38.30" y1="341.05" x2="38.90" y2="341.05" stroke="#888" stroke-width="0.5" />
<line x1="38.30" y1="342.55" x2="38.90" y2="342.55" stroke="#888" stroke-width="0.5" />
<line x1="38.30" y1="343.65" x2="38.90" y2="343.65" stroke="#888" stroke-width="0.5" />
<line x1="38.30" y1="344.45" x2="38.90" y2="344.45" stroke="#888" stroke-width="0.5" />
<line x1="37.50" y1="346.20" x2="39.20" y2="346.20" stroke="#444" stroke-width="0.8" />
<text x="33.70" y="347.30" font-size="2.6" font-weight="normal" text-anchor="start" fill="#555" font-family="Liberation Sans" stroke="#555" stroke-width="0.08" >10</text>
<text x="36.60" y="345.70" font-size="1.8" font-weight="normal" text-anchor="start" fill="#555" font-family="Liberation Sans" stroke="#555" stroke-width="0.05" >2</text>
<line x1="38.30" y1="348.40" x2="38.90" y2="348.40" stroke="#888" stroke-width="0.5" />
<line x1="38.30" y1="349.90" x2="38.90" y2="349.90" stroke="#888" stroke-width="0.5" />
<line x1="38.30" y1="351.00" x2="38.90" y2="351.00" stroke="#888" stroke-width="0.5" />
<line x1="38.30" y1="351.80" x2="38.90" y2="351.80" stroke="#888" stroke-width="0.5" />
<line x1="37.50" y1="353.55" x2="39.20" y2="353.55" stroke="#444" stroke-width="0.8" />
<text x="33.70" y="354.65" font-size="2.6" font-weight="normal" text-anchor="start" fill="#555" font-family="Liberation Sans" stroke="#555" stroke-width="0.08" >10</text>
<text x="36.60" y="353.05" font-size="1.8" font-weight="normal" text-anchor="start" fill="#555" font-family="Liberation Sans" stroke="#555" stroke-width="0.05" >2</text>
<line x1="41.90" y1="353.30" x2="41.90" y2="355.00" stroke="#444" stroke-width="0.8" />
<text x="40.10" y="357.20" font-size="2.6" font-weight="normal" text-anchor="start" fill="#555" font-family="Liberation Sans" stroke="#555" stroke-width="0.08" >10</text>
<text x="43.00" y="355.60" font-size="1.8" font-weight="normal" text-anchor="start" fill="#555" font-family="Liberation Sans" stroke="#555" stroke-width="0.05" >2</text>
<line x1="46.10" y1="353.60" x2="46.10" y2="354.30" stroke="#888" stroke-width="0.5" />
<line x1="48.60" y1="353.60" x2="48.60" y2="354.30" stroke="#888" stroke-width="0.5" />
<line x1="50.50" y1="353.60" x2="50.50" y2="354.30" stroke="#888" stroke-width="0.5" />
<line x1="52.00" y1="353.60" x2="52.00" y2="354.30" stroke="#888" stroke-width="0.5" />
<line x1="53.20" y1="353.60" x2="53.20" y2="354.30" stroke="#888" stroke-width="0.5" />
<line x1="54.20" y1="353.60" x2="54.20" y2="354.30" stroke="#888" stroke-width="0.5" />
<line x1="55.90" y1="353.30" x2="55.90" y2="355.00" stroke="#444" stroke-width="0.8" />
<text x="54.10" y="357.20" font-size="2.6" font-weight="normal" text-anchor="start" fill="#555" font-family="Liberation Sans" stroke="#555" stroke-width="0.08" >10</text>
<text x="57.00" y="355.60" font-size="1.8" font-weight="normal" text-anchor="start" fill="#555" font-family="Liberation Sans" stroke="#555" stroke-width="0.05" >2</text>
<line x1="60.10" y1="353.60" x2="60.10" y2="354.30" stroke="#888" stroke-width="0.5" />
<line x1="62.60" y1="353.60" x2="62.60" y2="354.30" stroke="#888" stroke-width="0.5" />
<line x1="64.50" y1="353.60" x2="64.50" y2="354.30" stroke="#888" stroke-width="0.5" />
<line x1="66.00" y1="353.60" x2="66.00" y2="354.30" stroke="#888" stroke-width="0.5" />
<line x1="67.20" y1="353.60" x2="67.20" y2="354.30" stroke="#888" stroke-width="0.5" />
<line x1="68.20" y1="353.60" x2="68.20" y2="354.30" stroke="#888" stroke-width="0.5" />
<line x1="69.90" y1="353.30" x2="69.90" y2="355.00" stroke="#444" stroke-width="0.8" />
<text x="68.10" y="357.20" font-size="2.6" font-weight="normal" text-anchor="start" fill="#555" font-family="Liberation Sans" stroke="#555" stroke-width="0.08" >10</text>
<text x="71.00" y="355.60" font-size="1.8" font-weight="normal" text-anchor="start" fill="#555" font-family="Liberation Sans" stroke="#555" stroke-width="0.05" >2</text>
<line x1="74.10" y1="353.60" x2="74.10" y2="354.30" stroke="#888" stroke-width="0.5" />
<line x1="76.60" y1="353.60" x2="76.60" y2="354.30" stroke="#888" stroke-width="0.5" />
<line x1="78.50" y1="353.60" x2="78.50" y2="354.30" stroke="#888" stroke-width="0.5" />
<line x1="80.00" y1="353.60" x2="80.00" y2="354.30" stroke="#888" stroke-width="0.5" />
<line x1="81.20" y1="353.60" x2="81.20" y2="354.30" stroke="#888" stroke-width="0.5" />
<line x1="82.20" y1="353.60" x2="82.20" y2="354.30" stroke="#888" stroke-width="0.5" />
<line x1="83.90" y1="353.30" x2="83.90" y2="355.00" stroke="#444" stroke-width="0.8" />
<text x="82.10" y="357.20" font-size="2.6" font-weight="normal" text-anchor="start" fill="#555" font-family="Liberation Sans" stroke="#555" stroke-width="0.08" >10</text>
<text x="85.00" y="355.60" font-size="1.8" font-weight="normal" text-anchor="start" fill="#555" font-family="Liberation Sans" stroke="#555" stroke-width="0.05" >2</text>
<rect x="101.50" y="298.80" width="55.10" height="55.60" fill="#fff" stroke="#b0b0b0" stroke-width="0.9" />
<text x="129.35" y="294.40" font-size="7.6" font-weight="normal" text-anchor="middle" fill="#111" font-family="Liberation Sans" stroke="#111" stroke-width="0.12" >Addavax</text>
<rect x="121.40" y="307.10" width="24.80" height="14.30" fill="none" stroke="#8a8a8a" stroke-width="0.8" />
<g transform="translate(134.70,324.60) scale(0.95)"><circle cx="3.21" cy="-2.70" r="0.55" fill="#5060ff" opacity="0.42"/><circle cx="-0.26" cy="3.29" r="0.49" fill="#5060ff" opacity="0.36"/><circle cx="-0.98" cy="3.11" r="0.36" fill="#5060ff" opacity="0.48"/><circle cx="-4.09" cy="1.93" r="0.57" fill="#2080ff" opacity="0.45"/><circle cx="2.00" cy="0.99" r="0.40" fill="#7070ff" opacity="0.46"/><circle cx="-3.36" cy="-4.58" r="0.47" fill="#7070ff" opacity="0.45"/><circle cx="1.35" cy="-8.64" r="0.43" fill="#8080ff" opacity="0.64"/><circle cx="-1.95" cy="2.57" r="0.57" fill="#2080ff" opacity="0.60"/><circle cx="-3.84" cy="1.45" r="0.49" fill="#5060ff" opacity="0.34"/><circle cx="1.78" cy="0.51" r="0.54" fill="#3050ff" opacity="0.39"/><circle cx="-1.68" cy="-4.86" r="0.54" fill="#2080ff" opacity="0.35"/><circle cx="1.12" cy="-9.14" r="0.31" fill="#8080ff" opacity="0.58"/><circle cx="0.49" cy="3.08" r="0.42" fill="#5060ff" opacity="0.28"/><circle cx="0.42" cy="2.79" r="0.53" fill="#5060ff" opacity="0.57"/><circle cx="-3.62" cy="-0.00" r="0.53" fill="#2080ff" opacity="0.29"/><circle cx="-0.66" cy="-7.43" r="0.32" fill="#5060ff" opacity="0.55"/><circle cx="-4.52" cy="0.66" r="0.44" fill="#2080ff" opacity="0.57"/><circle cx="2.35" cy="2.11" r="0.39" fill="#2080ff" opacity="0.49"/><circle cx="1.35" cy="-8.61" r="0.48" fill="#3050ff" opacity="0.37"/><circle cx="2.00" cy="-7.65" r="0.59" fill="#5060ff" opacity="0.56"/><circle cx="-1.41" cy="-6.60" r="0.46" fill="#8080ff" opacity="0.42"/><circle cx="2.75" cy="-1.58" r="0.30" fill="#5060ff" opacity="0.56"/><circle cx="-1.95" cy="3.85" r="0.59" fill="#2080ff" opacity="0.27"/><circle cx="-0.19" cy="-6.75" r="0.50" fill="#2080ff" opacity="0.37"/><circle cx="3.42" cy="1.41" r="0.39" fill="#8080ff" opacity="0.64"/><circle cx="2.39" cy="-3.62" r="0.55" fill="#7070ff" opacity="0.43"/><circle cx="2.11" cy="-2.53" r="0.45" fill="#5060ff" opacity="0.62"/><circle cx="1.97" cy="-5.58" r="0.53" fill="#8080ff" opacity="0.43"/><circle cx="0.62" cy="-9.87" r="0.55" fill="#7070ff" opacity="0.49"/><circle cx="0.58" cy="-6.47" r="0.38" fill="#5060ff" opacity="0.38"/><circle cx="3.73" cy="0.08" r="0.35" fill="#3050ff" opacity="0.62"/><circle cx="-0.77" cy="7.17" r="0.56" fill="#2080ff" opacity="0.32"/><circle cx="-3.04" cy="2.79" r="0.51" fill="#8080ff" opacity="0.62"/><circle cx="-0.37" cy="6.97" r="0.35" fill="#8080ff" opacity="0.43"/><circle cx="-4.67" cy="-3.17" r="0.42" fill="#5060ff" opacity="0.62"/><circle cx="2.16" cy="1.80" r="0.50" fill="#3050ff" opacity="0.40"/><circle cx="1.12" cy="-4.80" r="0.39" fill="#2080ff" opacity="0.25"/><circle cx="-4.63" cy="-2.80" r="0.39" fill="#7070ff" opacity="0.35"/><circle cx="-0.75" cy="-8.65" r="0.35" fill="#8080ff" opacity="0.41"/><circle cx="-2.59" cy="-8.86" r="0.38" fill="#2080ff" opacity="0.58"/><circle cx="0.13" cy="2.63" r="0.51" fill="#3050ff" opacity="0.65"/><circle cx="0.29" cy="-8.62" r="0.56" fill="#8080ff" opacity="0.55"/><circle cx="3.40" cy="1.70" r="0.32" fill="#8080ff" opacity="0.63"/><circle cx="3.33" cy="1.75" r="0.42" fill="#8080ff" opacity="0.53"/><circle cx="0.61" cy="1.37" r="0.36" fill="#2080ff" opacity="0.46"/><circle cx="-2.76" cy="-0.33" r="0.48" fill="#2080ff" opacity="0.30"/><circle cx="0.58" cy="-3.96" r="0.51" fill="#5060ff" opacity="0.41"/><circle cx="-4.02" cy="1.78" r="0.45" fill="#7070ff" opacity="0.62"/><circle cx="-3.71" cy="-5.01" r="0.34" fill="#3050ff" opacity="0.52"/><circle cx="-3.45" cy="-5.61" r="0.31" fill="#8080ff" opacity="0.32"/><circle cx="0.69" cy="6.71" r="0.57" fill="#2080ff" opacity="0.38"/><circle cx="-2.66" cy="2.51" r="0.48" fill="#3050ff" opacity="0.64"/><circle cx="-1.67" cy="-8.40" r="0.39" fill="#2080ff" opacity="0.49"/><circle cx="3.19" cy="-5.38" r="0.33" fill="#8080ff" opacity="0.29"/><circle cx="1.62" cy="-3.13" r="0.35" fill="#2080ff" opacity="0.25"/><circle cx="0.12" cy="4.50" r="0.55" fill="#8080ff" opacity="0.36"/><circle cx="2.98" cy="2.10" r="0.37" fill="#2080ff" opacity="0.49"/><circle cx="-4.25" cy="1.21" r="0.49" fill="#2080ff" opacity="0.42"/><circle cx="3.68" cy="-3.35" r="0.50" fill="#7070ff" opacity="0.32"/><circle cx="1.16" cy="4.84" r="0.52" fill="#8080ff" opacity="0.37"/><ellipse cx="-0.8" cy="-6.5" rx="2.8" ry="3.4" fill="#9090ff" opacity="0.3" filter="url(#bl2)"/><ellipse cx="-0.5" cy="-0.6" rx="3.4" ry="7.0" fill="#6070ff" opacity="0.4" filter="url(#bl)"/><ellipse cx="-0.3" cy="0.4" rx="2.5" ry="5.0" fill="#2a58f5" opacity="0.85" filter="url(#bl)"/><ellipse cx="0" cy="0.4" rx="1.9" ry="3.8" fill="#10b0e0" filter="url(#bl)"/><ellipse cx="0.1" cy="0.2" rx="1.5" ry="3.0" fill="#38d040" filter="url(#bl)"/><ellipse cx="0.1" cy="0" rx="0.9" ry="1.7" fill="#c8d820" filter="url(#bl)"/><ellipse cx="0.1" cy="-0.1" rx="0.55" ry="0.9" fill="#f08000" filter="url(#bl)"/></g>
<text x="112.90" y="310.10" font-size="2.7" font-weight="bold" text-anchor="start" fill="#333" font-family="Liberation Sans" stroke="#333" stroke-width="0.05" >CD44</text>
<text x="113.60" y="314.60" font-size="2.7" font-weight="bold" text-anchor="start" fill="#333" font-family="Liberation Sans" stroke="#333" stroke-width="0.05" >7.81</text>
<line x1="100.10" y1="302.00" x2="101.80" y2="302.00" stroke="#444" stroke-width="0.8" />
<text x="96.30" y="303.10" font-size="2.6" font-weight="normal" text-anchor="start" fill="#555" font-family="Liberation Sans" stroke="#555" stroke-width="0.08" >10</text>
<text x="99.20" y="301.50" font-size="1.8" font-weight="normal" text-anchor="start" fill="#555" font-family="Liberation Sans" stroke="#555" stroke-width="0.05" >2</text>
<line x1="100.90" y1="304.20" x2="101.50" y2="304.20" stroke="#888" stroke-width="0.5" />
<line x1="100.90" y1="305.70" x2="101.50" y2="305.70" stroke="#888" stroke-width="0.5" />
<line x1="100.90" y1="306.80" x2="101.50" y2="306.80" stroke="#888" stroke-width="0.5" />
<line x1="100.90" y1="307.60" x2="101.50" y2="307.60" stroke="#888" stroke-width="0.5" />
<line x1="100.10" y1="309.35" x2="101.80" y2="309.35" stroke="#444" stroke-width="0.8" />
<text x="96.30" y="310.45" font-size="2.6" font-weight="normal" text-anchor="start" fill="#555" font-family="Liberation Sans" stroke="#555" stroke-width="0.08" >10</text>
<text x="99.20" y="308.85" font-size="1.8" font-weight="normal" text-anchor="start" fill="#555" font-family="Liberation Sans" stroke="#555" stroke-width="0.05" >2</text>
<line x1="100.90" y1="311.55" x2="101.50" y2="311.55" stroke="#888" stroke-width="0.5" />
<line x1="100.90" y1="313.05" x2="101.50" y2="313.05" stroke="#888" stroke-width="0.5" />
<line x1="100.90" y1="314.15" x2="101.50" y2="314.15" stroke="#888" stroke-width="0.5" />
<line x1="100.90" y1="314.95" x2="101.50" y2="314.95" stroke="#888" stroke-width="0.5" />
<line x1="100.10" y1="316.70" x2="101.80" y2="316.70" stroke="#444" stroke-width="0.8" />
<text x="96.30" y="317.80" font-size="2.6" font-weight="normal" text-anchor="start" fill="#555" font-family="Liberation Sans" stroke="#555" stroke-width="0.08" >10</text>
<text x="99.20" y="316.20" font-size="1.8" font-weight="normal" text-anchor="start" fill="#555" font-family="Liberation Sans" stroke="#555" stroke-width="0.05" >2</text>
<line x1="100.90" y1="318.90" x2="101.50" y2="318.90" stroke="#888" stroke-width="0.5" />
<line x1="100.90" y1="320.40" x2="101.50" y2="320.40" stroke="#888" stroke-width="0.5" />
<line x1="100.90" y1="321.50" x2="101.50" y2="321.50" stroke="#888" stroke-width="0.5" />
<line x1="100.90" y1="322.30" x2="101.50" y2="322.30" stroke="#888" stroke-width="0.5" />
<line x1="100.10" y1="324.05" x2="101.80" y2="324.05" stroke="#444" stroke-width="0.8" />
<text x="96.30" y="325.15" font-size="2.6" font-weight="normal" text-anchor="start" fill="#555" font-family="Liberation Sans" stroke="#555" stroke-width="0.08" >10</text>
<text x="99.20" y="323.55" font-size="1.8" font-weight="normal" text-anchor="start" fill="#555" font-family="Liberation Sans" stroke="#555" stroke-width="0.05" >2</text>
<line x1="100.90" y1="326.25" x2="101.50" y2="326.25" stroke="#888" stroke-width="0.5" />
<line x1="100.90" y1="327.75" x2="101.50" y2="327.75" stroke="#888" stroke-width="0.5" />
<line x1="100.90" y1="328.85" x2="101.50" y2="328.85" stroke="#888" stroke-width="0.5" />
<line x1="100.90" y1="329.65" x2="101.50" y2="329.65" stroke="#888" stroke-width="0.5" />
<line x1="100.10" y1="331.40" x2="101.80" y2="331.40" stroke="#444" stroke-width="0.8" />
<text x="96.30" y="332.50" font-size="2.6" font-weight="normal" text-anchor="start" fill="#555" font-family="Liberation Sans" stroke="#555" stroke-width="0.08" >10</text>
<text x="99.20" y="330.90" font-size="1.8" font-weight="normal" text-anchor="start" fill="#555" font-family="Liberation Sans" stroke="#555" stroke-width="0.05" >2</text>
<line x1="100.90" y1="333.60" x2="101.50" y2="333.60" stroke="#888" stroke-width="0.5" />
<line x1="100.90" y1="335.10" x2="101.50" y2="335.10" stroke="#888" stroke-width="0.5" />
<line x1="100.90" y1="336.20" x2="101.50" y2="336.20" stroke="#888" stroke-width="0.5" />
<line x1="100.90" y1="337.00" x2="101.50" y2="337.00" stroke="#888" stroke-width="0.5" />
<line x1="100.10" y1="338.75" x2="101.80" y2="338.75" stroke="#444" stroke-width="0.8" />
<text x="96.30" y="339.85" font-size="2.6" font-weight="normal" text-anchor="start" fill="#555" font-family="Liberation Sans" stroke="#555" stroke-width="0.08" >10</text>
<text x="99.20" y="338.25" font-size="1.8" font-weight="normal" text-anchor="start" fill="#555" font-family="Liberation Sans" stroke="#555" stroke-width="0.05" >2</text>
<line x1="100.90" y1="340.95" x2="101.50" y2="340.95" stroke="#888" stroke-width="0.5" />
<line x1="100.90" y1="342.45" x2="101.50" y2="342.45" stroke="#888" stroke-width="0.5" />
<line x1="100.90" y1="343.55" x2="101.50" y2="343.55" stroke="#888" stroke-width="0.5" />
<line x1="100.90" y1="344.35" x2="101.50" y2="344.35" stroke="#888" stroke-width="0.5" />
<line x1="100.10" y1="346.10" x2="101.80" y2="346.10" stroke="#444" stroke-width="0.8" />
<text x="96.30" y="347.20" font-size="2.6" font-weight="normal" text-anchor="start" fill="#555" font-family="Liberation Sans" stroke="#555" stroke-width="0.08" >10</text>
<text x="99.20" y="345.60" font-size="1.8" font-weight="normal" text-anchor="start" fill="#555" font-family="Liberation Sans" stroke="#555" stroke-width="0.05" >2</text>
<line x1="100.90" y1="348.30" x2="101.50" y2="348.30" stroke="#888" stroke-width="0.5" />
<line x1="100.90" y1="349.80" x2="101.50" y2="349.80" stroke="#888" stroke-width="0.5" />
<line x1="100.90" y1="350.90" x2="101.50" y2="350.90" stroke="#888" stroke-width="0.5" />
<line x1="100.90" y1="351.70" x2="101.50" y2="351.70" stroke="#888" stroke-width="0.5" />
<line x1="100.10" y1="353.45" x2="101.80" y2="353.45" stroke="#444" stroke-width="0.8" />
<text x="96.30" y="354.55" font-size="2.6" font-weight="normal" text-anchor="start" fill="#555" font-family="Liberation Sans" stroke="#555" stroke-width="0.08" >10</text>
<text x="99.20" y="352.95" font-size="1.8" font-weight="normal" text-anchor="start" fill="#555" font-family="Liberation Sans" stroke="#555" stroke-width="0.05" >2</text>
<line x1="104.50" y1="354.10" x2="104.50" y2="355.80" stroke="#444" stroke-width="0.8" />
<text x="102.70" y="358.00" font-size="2.6" font-weight="normal" text-anchor="start" fill="#555" font-family="Liberation Sans" stroke="#555" stroke-width="0.08" >10</text>
<text x="105.60" y="356.40" font-size="1.8" font-weight="normal" text-anchor="start" fill="#555" font-family="Liberation Sans" stroke="#555" stroke-width="0.05" >2</text>
<line x1="108.70" y1="354.40" x2="108.70" y2="355.10" stroke="#888" stroke-width="0.5" />
<line x1="111.20" y1="354.40" x2="111.20" y2="355.10" stroke="#888" stroke-width="0.5" />
<line x1="113.10" y1="354.40" x2="113.10" y2="355.10" stroke="#888" stroke-width="0.5" />
<line x1="114.60" y1="354.40" x2="114.60" y2="355.10" stroke="#888" stroke-width="0.5" />
<line x1="115.80" y1="354.40" x2="115.80" y2="355.10" stroke="#888" stroke-width="0.5" />
<line x1="116.80" y1="354.40" x2="116.80" y2="355.10" stroke="#888" stroke-width="0.5" />
<line x1="118.50" y1="354.10" x2="118.50" y2="355.80" stroke="#444" stroke-width="0.8" />
<text x="116.70" y="358.00" font-size="2.6" font-weight="normal" text-anchor="start" fill="#555" font-family="Liberation Sans" stroke="#555" stroke-width="0.08" >10</text>
<text x="119.60" y="356.40" font-size="1.8" font-weight="normal" text-anchor="start" fill="#555" font-family="Liberation Sans" stroke="#555" stroke-width="0.05" >2</text>
<line x1="122.70" y1="354.40" x2="122.70" y2="355.10" stroke="#888" stroke-width="0.5" />
<line x1="125.20" y1="354.40" x2="125.20" y2="355.10" stroke="#888" stroke-width="0.5" />
<line x1="127.10" y1="354.40" x2="127.10" y2="355.10" stroke="#888" stroke-width="0.5" />
<line x1="128.60" y1="354.40" x2="128.60" y2="355.10" stroke="#888" stroke-width="0.5" />
<line x1="129.80" y1="354.40" x2="129.80" y2="355.10" stroke="#888" stroke-width="0.5" />
<line x1="130.80" y1="354.40" x2="130.80" y2="355.10" stroke="#888" stroke-width="0.5" />
<line x1="132.50" y1="354.10" x2="132.50" y2="355.80" stroke="#444" stroke-width="0.8" />
<text x="130.70" y="358.00" font-size="2.6" font-weight="normal" text-anchor="start" fill="#555" font-family="Liberation Sans" stroke="#555" stroke-width="0.08" >10</text>
<text x="133.60" y="356.40" font-size="1.8" font-weight="normal" text-anchor="start" fill="#555" font-family="Liberation Sans" stroke="#555" stroke-width="0.05" >2</text>
<line x1="136.70" y1="354.40" x2="136.70" y2="355.10" stroke="#888" stroke-width="0.5" />
<line x1="139.20" y1="354.40" x2="139.20" y2="355.10" stroke="#888" stroke-width="0.5" />
<line x1="141.10" y1="354.40" x2="141.10" y2="355.10" stroke="#888" stroke-width="0.5" />
<line x1="142.60" y1="354.40" x2="142.60" y2="355.10" stroke="#888" stroke-width="0.5" />
<line x1="143.80" y1="354.40" x2="143.80" y2="355.10" stroke="#888" stroke-width="0.5" />
<line x1="144.80" y1="354.40" x2="144.80" y2="355.10" stroke="#888" stroke-width="0.5" />
<line x1="146.50" y1="354.10" x2="146.50" y2="355.80" stroke="#444" stroke-width="0.8" />
<text x="144.70" y="358.00" font-size="2.6" font-weight="normal" text-anchor="start" fill="#555" font-family="Liberation Sans" stroke="#555" stroke-width="0.08" >10</text>
<text x="147.60" y="356.40" font-size="1.8" font-weight="normal" text-anchor="start" fill="#555" font-family="Liberation Sans" stroke="#555" stroke-width="0.05" >2</text>
<rect x="165.50" y="299.20" width="55.70" height="56.30" fill="#fff" stroke="#b0b0b0" stroke-width="0.9" />
<text x="193.65" y="294.40" font-size="7.6" font-weight="normal" text-anchor="middle" fill="#111" font-family="Liberation Sans" stroke="#111" stroke-width="0.12" >Spike-His</text>
<rect x="185.10" y="308.00" width="25.50" height="14.40" fill="none" stroke="#8a8a8a" stroke-width="0.8" />
<g transform="translate(198.60,325.20) scale(1.0)"><circle cx="1.33" cy="-7.33" r="0.43" fill="#3050ff" opacity="0.44"/><circle cx="-3.40" cy="4.15" r="0.55" fill="#7070ff" opacity="0.28"/><circle cx="1.29" cy="3.80" r="0.54" fill="#8080ff" opacity="0.47"/><circle cx="0.29" cy="-9.58" r="0.37" fill="#7070ff" opacity="0.42"/><circle cx="-0.29" cy="5.32" r="0.49" fill="#7070ff" opacity="0.28"/><circle cx="-3.00" cy="-5.51" r="0.58" fill="#2080ff" opacity="0.26"/><circle cx="1.26" cy="-1.52" r="0.59" fill="#2080ff" opacity="0.62"/><circle cx="-0.18" cy="-8.54" r="0.33" fill="#3050ff" opacity="0.37"/><circle cx="-2.01" cy="-6.74" r="0.48" fill="#7070ff" opacity="0.30"/><circle cx="-1.58" cy="-9.63" r="0.37" fill="#7070ff" opacity="0.39"/><circle cx="0.65" cy="2.30" r="0.54" fill="#8080ff" opacity="0.44"/><circle cx="-3.84" cy="2.20" r="0.45" fill="#7070ff" opacity="0.32"/><circle cx="-3.04" cy="4.99" r="0.48" fill="#3050ff" opacity="0.35"/><circle cx="-1.32" cy="-6.16" r="0.33" fill="#2080ff" opacity="0.49"/><circle cx="-2.56" cy="0.89" r="0.54" fill="#5060ff" opacity="0.56"/><circle cx="-2.06" cy="-6.93" r="0.51" fill="#7070ff" opacity="0.43"/><circle cx="0.82" cy="4.30" r="0.47" fill="#8080ff" opacity="0.54"/><circle cx="-1.03" cy="1.46" r="0.52" fill="#2080ff" opacity="0.50"/><circle cx="-0.20" cy="-6.57" r="0.47" fill="#8080ff" opacity="0.54"/><circle cx="-1.40" cy="1.12" r="0.57" fill="#8080ff" opacity="0.35"/><circle cx="0.97" cy="-4.05" r="0.54" fill="#7070ff" opacity="0.57"/><circle cx="-2.76" cy="-5.25" r="0.43" fill="#2080ff" opacity="0.46"/><circle cx="-3.31" cy="-1.61" r="0.36" fill="#5060ff" opacity="0.33"/><circle cx="-2.04" cy="1.78" r="0.30" fill="#3050ff" opacity="0.27"/><circle cx="0.91" cy="-7.00" r="0.49" fill="#5060ff" opacity="0.50"/><circle cx="-0.08" cy="-7.75" r="0.59" fill="#8080ff" opacity="0.35"/><circle cx="3.39" cy="-2.70" r="0.43" fill="#8080ff" opacity="0.60"/><circle cx="-3.68" cy="-3.79" r="0.50" fill="#8080ff" opacity="0.38"/><circle cx="1.86" cy="-4.04" r="0.35" fill="#5060ff" opacity="0.41"/><circle cx="0.35" cy="4.34" r="0.58" fill="#7070ff" opacity="0.42"/><circle cx="1.54" cy="-1.04" r="0.30" fill="#7070ff" opacity="0.29"/><circle cx="0.92" cy="2.85" r="0.49" fill="#5060ff" opacity="0.44"/><circle cx="2.92" cy="-1.74" r="0.51" fill="#7070ff" opacity="0.59"/><circle cx="1.17" cy="-6.61" r="0.51" fill="#2080ff" opacity="0.60"/><circle cx="-4.00" cy="3.30" r="0.56" fill="#3050ff" opacity="0.30"/><circle cx="3.33" cy="-0.65" r="0.47" fill="#3050ff" opacity="0.34"/><circle cx="-2.87" cy="-1.98" r="0.56" fill="#2080ff" opacity="0.33"/><circle cx="2.14" cy="-6.99" r="0.42" fill="#2080ff" opacity="0.44"/><circle cx="0.04" cy="-8.75" r="0.52" fill="#2080ff" opacity="0.52"/><circle cx="-3.54" cy="-5.02" r="0.49" fill="#8080ff" opacity="0.58"/><circle cx="1.43" cy="3.67" r="0.55" fill="#7070ff" opacity="0.26"/><circle cx="3.35" cy="-0.07" r="0.53" fill="#3050ff" opacity="0.32"/><circle cx="-1.90" cy="2.34" r="0.33" fill="#5060ff" opacity="0.53"/><circle cx="-0.95" cy="6.71" r="0.42" fill="#7070ff" opacity="0.46"/><circle cx="-2.53" cy="-5.28" r="0.40" fill="#5060ff" opacity="0.35"/><circle cx="0.87" cy="-6.91" r="0.50" fill="#7070ff" opacity="0.47"/><circle cx="-0.68" cy="1.72" r="0.41" fill="#3050ff" opacity="0.28"/><circle cx="-3.49" cy="-5.63" r="0.44" fill="#8080ff" opacity="0.48"/><circle cx="-1.16" cy="-6.28" r="0.46" fill="#7070ff" opacity="0.32"/><circle cx="2.29" cy="-7.94" r="0.50" fill="#3050ff" opacity="0.49"/><circle cx="0.31" cy="2.58" r="0.41" fill="#8080ff" opacity="0.48"/><circle cx="-2.04" cy="4.87" r="0.44" fill="#7070ff" opacity="0.59"/><circle cx="1.99" cy="-2.41" r="0.59" fill="#8080ff" opacity="0.41"/><circle cx="0.60" cy="0.84" r="0.31" fill="#8080ff" opacity="0.43"/><circle cx="1.58" cy="-5.48" r="0.30" fill="#5060ff" opacity="0.30"/><circle cx="0.87" cy="-8.92" r="0.57" fill="#8080ff" opacity="0.38"/><circle cx="-2.18" cy="3.89" r="0.51" fill="#5060ff" opacity="0.54"/><circle cx="0.32" cy="6.75" r="0.58" fill="#7070ff" opacity="0.59"/><circle cx="-4.13" cy="-0.47" r="0.41" fill="#8080ff" opacity="0.36"/><circle cx="1.50" cy="5.10" r="0.32" fill="#3050ff" opacity="0.38"/><ellipse cx="-0.8" cy="-6.5" rx="2.8" ry="3.4" fill="#9090ff" opacity="0.3" filter="url(#bl2)"/><ellipse cx="-0.5" cy="-0.6" rx="3.4" ry="7.0" fill="#6070ff" opacity="0.4" filter="url(#bl)"/><ellipse cx="-0.3" cy="0.4" rx="2.5" ry="5.0" fill="#2a58f5" opacity="0.85" filter="url(#bl)"/><ellipse cx="0" cy="0.4" rx="1.9" ry="3.8" fill="#10b0e0" filter="url(#bl)"/><ellipse cx="0.1" cy="0.2" rx="1.5" ry="3.0" fill="#38d040" filter="url(#bl)"/><ellipse cx="0.1" cy="0" rx="0.9" ry="1.7" fill="#c8d820" filter="url(#bl)"/><ellipse cx="0.1" cy="-0.1" rx="0.55" ry="0.9" fill="#f08000" filter="url(#bl)"/></g>
<text x="176.20" y="312.00" font-size="2.7" font-weight="bold" text-anchor="start" fill="#333" font-family="Liberation Sans" stroke="#333" stroke-width="0.05" >CD44</text>
<text x="176.90" y="316.50" font-size="2.7" font-weight="bold" text-anchor="start" fill="#333" font-family="Liberation Sans" stroke="#333" stroke-width="0.05" >12.8</text>
<line x1="164.10" y1="302.40" x2="165.80" y2="302.40" stroke="#444" stroke-width="0.8" />
<text x="160.30" y="303.50" font-size="2.6" font-weight="normal" text-anchor="start" fill="#555" font-family="Liberation Sans" stroke="#555" stroke-width="0.08" >10</text>
<text x="163.20" y="301.90" font-size="1.8" font-weight="normal" text-anchor="start" fill="#555" font-family="Liberation Sans" stroke="#555" stroke-width="0.05" >2</text>
<line x1="164.90" y1="304.60" x2="165.50" y2="304.60" stroke="#888" stroke-width="0.5" />
<line x1="164.90" y1="306.10" x2="165.50" y2="306.10" stroke="#888" stroke-width="0.5" />
<line x1="164.90" y1="307.20" x2="165.50" y2="307.20" stroke="#888" stroke-width="0.5" />
<line x1="164.90" y1="308.00" x2="165.50" y2="308.00" stroke="#888" stroke-width="0.5" />
<line x1="164.10" y1="309.75" x2="165.80" y2="309.75" stroke="#444" stroke-width="0.8" />
<text x="160.30" y="310.85" font-size="2.6" font-weight="normal" text-anchor="start" fill="#555" font-family="Liberation Sans" stroke="#555" stroke-width="0.08" >10</text>
<text x="163.20" y="309.25" font-size="1.8" font-weight="normal" text-anchor="start" fill="#555" font-family="Liberation Sans" stroke="#555" stroke-width="0.05" >2</text>
<line x1="164.90" y1="311.95" x2="165.50" y2="311.95" stroke="#888" stroke-width="0.5" />
<line x1="164.90" y1="313.45" x2="165.50" y2="313.45" stroke="#888" stroke-width="0.5" />
<line x1="164.90" y1="314.55" x2="165.50" y2="314.55" stroke="#888" stroke-width="0.5" />
<line x1="164.90" y1="315.35" x2="165.50" y2="315.35" stroke="#888" stroke-width="0.5" />
<line x1="164.10" y1="317.10" x2="165.80" y2="317.10" stroke="#444" stroke-width="0.8" />
<text x="160.30" y="318.20" font-size="2.6" font-weight="normal" text-anchor="start" fill="#555" font-family="Liberation Sans" stroke="#555" stroke-width="0.08" >10</text>
<text x="163.20" y="316.60" font-size="1.8" font-weight="normal" text-anchor="start" fill="#555" font-family="Liberation Sans" stroke="#555" stroke-width="0.05" >2</text>
<line x1="164.90" y1="319.30" x2="165.50" y2="319.30" stroke="#888" stroke-width="0.5" />
<line x1="164.90" y1="320.80" x2="165.50" y2="320.80" stroke="#888" stroke-width="0.5" />
<line x1="164.90" y1="321.90" x2="165.50" y2="321.90" stroke="#888" stroke-width="0.5" />
<line x1="164.90" y1="322.70" x2="165.50" y2="322.70" stroke="#888" stroke-width="0.5" />
<line x1="164.10" y1="324.45" x2="165.80" y2="324.45" stroke="#444" stroke-width="0.8" />
<text x="160.30" y="325.55" font-size="2.6" font-weight="normal" text-anchor="start" fill="#555" font-family="Liberation Sans" stroke="#555" stroke-width="0.08" >10</text>
<text x="163.20" y="323.95" font-size="1.8" font-weight="normal" text-anchor="start" fill="#555" font-family="Liberation Sans" stroke="#555" stroke-width="0.05" >2</text>
<line x1="164.90" y1="326.65" x2="165.50" y2="326.65" stroke="#888" stroke-width="0.5" />
<line x1="164.90" y1="328.15" x2="165.50" y2="328.15" stroke="#888" stroke-width="0.5" />
<line x1="164.90" y1="329.25" x2="165.50" y2="329.25" stroke="#888" stroke-width="0.5" />
<line x1="164.90" y1="330.05" x2="165.50" y2="330.05" stroke="#888" stroke-width="0.5" />
<line x1="164.10" y1="331.80" x2="165.80" y2="331.80" stroke="#444" stroke-width="0.8" />
<text x="160.30" y="332.90" font-size="2.6" font-weight="normal" text-anchor="start" fill="#555" font-family="Liberation Sans" stroke="#555" stroke-width="0.08" >10</text>
<text x="163.20" y="331.30" font-size="1.8" font-weight="normal" text-anchor="start" fill="#555" font-family="Liberation Sans" stroke="#555" stroke-width="0.05" >2</text>
<line x1="164.90" y1="334.00" x2="165.50" y2="334.00" stroke="#888" stroke-width="0.5" />
<line x1="164.90" y1="335.50" x2="165.50" y2="335.50" stroke="#888" stroke-width="0.5" />
<line x1="164.90" y1="336.60" x2="165.50" y2="336.60" stroke="#888" stroke-width="0.5" />
<line x1="164.90" y1="337.40" x2="165.50" y2="337.40" stroke="#888" stroke-width="0.5" />
<line x1="164.10" y1="339.15" x2="165.80" y2="339.15" stroke="#444" stroke-width="0.8" />
<text x="160.30" y="340.25" font-size="2.6" font-weight="normal" text-anchor="start" fill="#555" font-family="Liberation Sans" stroke="#555" stroke-width="0.08" >10</text>
<text x="163.20" y="338.65" font-size="1.8" font-weight="normal" text-anchor="start" fill="#555" font-family="Liberation Sans" stroke="#555" stroke-width="0.05" >2</text>
<line x1="164.90" y1="341.35" x2="165.50" y2="341.35" stroke="#888" stroke-width="0.5" />
<line x1="164.90" y1="342.85" x2="165.50" y2="342.85" stroke="#888" stroke-width="0.5" />
<line x1="164.90" y1="343.95" x2="165.50" y2="343.95" stroke="#888" stroke-width="0.5" />
<line x1="164.90" y1="344.75" x2="165.50" y2="344.75" stroke="#888" stroke-width="0.5" />
<line x1="164.10" y1="346.50" x2="165.80" y2="346.50" stroke="#444" stroke-width="0.8" />
<text x="160.30" y="347.60" font-size="2.6" font-weight="normal" text-anchor="start" fill="#555" font-family="Liberation Sans" stroke="#555" stroke-width="0.08" >10</text>
<text x="163.20" y="346.00" font-size="1.8" font-weight="normal" text-anchor="start" fill="#555" font-family="Liberation Sans" stroke="#555" stroke-width="0.05" >2</text>
<line x1="164.90" y1="348.70" x2="165.50" y2="348.70" stroke="#888" stroke-width="0.5" />
<line x1="164.90" y1="350.20" x2="165.50" y2="350.20" stroke="#888" stroke-width="0.5" />
<line x1="164.90" y1="351.30" x2="165.50" y2="351.30" stroke="#888" stroke-width="0.5" />
<line x1="164.90" y1="352.10" x2="165.50" y2="352.10" stroke="#888" stroke-width="0.5" />
<line x1="164.10" y1="353.85" x2="165.80" y2="353.85" stroke="#444" stroke-width="0.8" />
<text x="160.30" y="354.95" font-size="2.6" font-weight="normal" text-anchor="start" fill="#555" font-family="Liberation Sans" stroke="#555" stroke-width="0.08" >10</text>
<text x="163.20" y="353.35" font-size="1.8" font-weight="normal" text-anchor="start" fill="#555" font-family="Liberation Sans" stroke="#555" stroke-width="0.05" >2</text>
<line x1="168.50" y1="355.20" x2="168.50" y2="356.90" stroke="#444" stroke-width="0.8" />
<text x="166.70" y="359.10" font-size="2.6" font-weight="normal" text-anchor="start" fill="#555" font-family="Liberation Sans" stroke="#555" stroke-width="0.08" >10</text>
<text x="169.60" y="357.50" font-size="1.8" font-weight="normal" text-anchor="start" fill="#555" font-family="Liberation Sans" stroke="#555" stroke-width="0.05" >2</text>
<line x1="172.70" y1="355.50" x2="172.70" y2="356.20" stroke="#888" stroke-width="0.5" />
<line x1="175.20" y1="355.50" x2="175.20" y2="356.20" stroke="#888" stroke-width="0.5" />
<line x1="177.10" y1="355.50" x2="177.10" y2="356.20" stroke="#888" stroke-width="0.5" />
<line x1="178.60" y1="355.50" x2="178.60" y2="356.20" stroke="#888" stroke-width="0.5" />
<line x1="179.80" y1="355.50" x2="179.80" y2="356.20" stroke="#888" stroke-width="0.5" />
<line x1="180.80" y1="355.50" x2="180.80" y2="356.20" stroke="#888" stroke-width="0.5" />
<line x1="182.50" y1="355.20" x2="182.50" y2="356.90" stroke="#444" stroke-width="0.8" />
<text x="180.70" y="359.10" font-size="2.6" font-weight="normal" text-anchor="start" fill="#555" font-family="Liberation Sans" stroke="#555" stroke-width="0.08" >10</text>
<text x="183.60" y="357.50" font-size="1.8" font-weight="normal" text-anchor="start" fill="#555" font-family="Liberation Sans" stroke="#555" stroke-width="0.05" >2</text>
<line x1="186.70" y1="355.50" x2="186.70" y2="356.20" stroke="#888" stroke-width="0.5" />
<line x1="189.20" y1="355.50" x2="189.20" y2="356.20" stroke="#888" stroke-width="0.5" />
<line x1="191.10" y1="355.50" x2="191.10" y2="356.20" stroke="#888" stroke-width="0.5" />
<line x1="192.60" y1="355.50" x2="192.60" y2="356.20" stroke="#888" stroke-width="0.5" />
<line x1="193.80" y1="355.50" x2="193.80" y2="356.20" stroke="#888" stroke-width="0.5" />
<line x1="194.80" y1="355.50" x2="194.80" y2="356.20" stroke="#888" stroke-width="0.5" />
<line x1="196.50" y1="355.20" x2="196.50" y2="356.90" stroke="#444" stroke-width="0.8" />
<text x="194.70" y="359.10" font-size="2.6" font-weight="normal" text-anchor="start" fill="#555" font-family="Liberation Sans" stroke="#555" stroke-width="0.08" >10</text>
<text x="197.60" y="357.50" font-size="1.8" font-weight="normal" text-anchor="start" fill="#555" font-family="Liberation Sans" stroke="#555" stroke-width="0.05" >2</text>
<line x1="200.70" y1="355.50" x2="200.70" y2="356.20" stroke="#888" stroke-width="0.5" />
<line x1="203.20" y1="355.50" x2="203.20" y2="356.20" stroke="#888" stroke-width="0.5" />
<line x1="205.10" y1="355.50" x2="205.10" y2="356.20" stroke="#888" stroke-width="0.5" />
<line x1="206.60" y1="355.50" x2="206.60" y2="356.20" stroke="#888" stroke-width="0.5" />
<line x1="207.80" y1="355.50" x2="207.80" y2="356.20" stroke="#888" stroke-width="0.5" />
<line x1="208.80" y1="355.50" x2="208.80" y2="356.20" stroke="#888" stroke-width="0.5" />
<line x1="210.50" y1="355.20" x2="210.50" y2="356.90" stroke="#444" stroke-width="0.8" />
<text x="208.70" y="359.10" font-size="2.6" font-weight="normal" text-anchor="start" fill="#555" font-family="Liberation Sans" stroke="#555" stroke-width="0.08" >10</text>
<text x="211.60" y="357.50" font-size="1.8" font-weight="normal" text-anchor="start" fill="#555" font-family="Liberation Sans" stroke="#555" stroke-width="0.05" >2</text>
<rect x="229.40" y="298.80" width="55.30" height="56.70" fill="#fff" stroke="#b0b0b0" stroke-width="0.9" />
<text x="257.35" y="294.40" font-size="7.6" font-weight="normal" text-anchor="middle" fill="#111" font-family="Liberation Sans" stroke="#111" stroke-width="0.12" >WTSpike-HPF</text>
<rect x="249.70" y="307.60" width="25.00" height="14.40" fill="none" stroke="#8a8a8a" stroke-width="0.8" />
<g transform="translate(262.50,325.40) scale(1.05)"><circle cx="1.63" cy="0.97" r="0.48" fill="#3050ff" opacity="0.47"/><circle cx="-2.10" cy="1.46" r="0.55" fill="#5060ff" opacity="0.46"/><circle cx="-0.99" cy="-9.89" r="0.40" fill="#5060ff" opacity="0.63"/><circle cx="-4.78" cy="-1.35" r="0.32" fill="#7070ff" opacity="0.39"/><circle cx="-4.32" cy="-4.64" r="0.40" fill="#2080ff" opacity="0.41"/><circle cx="-4.44" cy="1.11" r="0.46" fill="#5060ff" opacity="0.52"/><circle cx="2.56" cy="-7.26" r="0.46" fill="#5060ff" opacity="0.28"/><circle cx="-1.27" cy="5.60" r="0.50" fill="#2080ff" opacity="0.32"/><circle cx="-2.25" cy="0.69" r="0.39" fill="#3050ff" opacity="0.45"/><circle cx="-3.81" cy="-2.06" r="0.57" fill="#3050ff" opacity="0.64"/><circle cx="0.18" cy="-6.72" r="0.36" fill="#3050ff" opacity="0.52"/><circle cx="1.89" cy="1.65" r="0.30" fill="#5060ff" opacity="0.50"/><circle cx="-3.02" cy="3.53" r="0.52" fill="#8080ff" opacity="0.35"/><circle cx="1.01" cy="-8.55" r="0.58" fill="#5060ff" opacity="0.52"/><circle cx="2.03" cy="-2.79" r="0.43" fill="#2080ff" opacity="0.26"/><circle cx="-3.92" cy="0.68" r="0.42" fill="#2080ff" opacity="0.61"/><circle cx="-0.91" cy="5.17" r="0.34" fill="#3050ff" opacity="0.38"/><circle cx="-1.12" cy="4.96" r="0.45" fill="#5060ff" opacity="0.35"/><circle cx="1.81" cy="-1.79" r="0.38" fill="#7070ff" opacity="0.50"/><circle cx="-3.98" cy="-4.93" r="0.54" fill="#3050ff" opacity="0.60"/><circle cx="-1.81" cy="3.10" r="0.32" fill="#8080ff" opacity="0.60"/><circle cx="-2.48" cy="-7.97" r="0.51" fill="#2080ff" opacity="0.46"/><circle cx="-1.02" cy="3.93" r="0.34" fill="#8080ff" opacity="0.45"/><circle cx="3.17" cy="-5.53" r="0.34" fill="#7070ff" opacity="0.33"/><circle cx="-3.58" cy="1.01" r="0.58" fill="#5060ff" opacity="0.47"/><circle cx="-1.02" cy="6.76" r="0.45" fill="#3050ff" opacity="0.63"/><circle cx="0.97" cy="-3.02" r="0.55" fill="#8080ff" opacity="0.52"/><circle cx="1.28" cy="2.02" r="0.55" fill="#2080ff" opacity="0.30"/><circle cx="3.45" cy="-3.19" r="0.47" fill="#2080ff" opacity="0.49"/><circle cx="3.19" cy="2.65" r="0.49" fill="#8080ff" opacity="0.35"/><circle cx="0.20" cy="-5.39" r="0.33" fill="#8080ff" opacity="0.50"/><circle cx="1.97" cy="3.63" r="0.44" fill="#3050ff" opacity="0.58"/><circle cx="-1.88" cy="-9.80" r="0.51" fill="#7070ff" opacity="0.53"/><circle cx="0.78" cy="3.60" r="0.52" fill="#5060ff" opacity="0.43"/><circle cx="-1.46" cy="5.34" r="0.54" fill="#8080ff" opacity="0.49"/><circle cx="-1.95" cy="1.34" r="0.50" fill="#7070ff" opacity="0.36"/><circle cx="-2.64" cy="-0.63" r="0.50" fill="#7070ff" opacity="0.53"/><circle cx="-2.63" cy="-3.99" r="0.36" fill="#2080ff" opacity="0.47"/><circle cx="-0.28" cy="-6.47" r="0.47" fill="#5060ff" opacity="0.50"/><circle cx="-1.52" cy="-5.12" r="0.49" fill="#7070ff" opacity="0.41"/><circle cx="0.95" cy="-3.87" r="0.38" fill="#2080ff" opacity="0.36"/><circle cx="2.70" cy="2.81" r="0.52" fill="#5060ff" opacity="0.65"/><circle cx="-2.94" cy="5.68" r="0.33" fill="#5060ff" opacity="0.37"/><circle cx="1.56" cy="-2.46" r="0.37" fill="#5060ff" opacity="0.65"/><circle cx="0.89" cy="6.26" r="0.56" fill="#7070ff" opacity="0.54"/><circle cx="-4.79" cy="-3.03" r="0.38" fill="#3050ff" opacity="0.39"/><circle cx="-2.16" cy="1.58" r="0.43" fill="#2080ff" opacity="0.48"/><circle cx="-2.49" cy="-0.62" r="0.48" fill="#3050ff" opacity="0.65"/><circle cx="2.37" cy="-1.19" r="0.55" fill="#7070ff" opacity="0.48"/><circle cx="-4.55" cy="1.35" r="0.54" fill="#8080ff" opacity="0.47"/><circle cx="2.00" cy="2.96" r="0.35" fill="#8080ff" opacity="0.26"/><circle cx="-3.00" cy="-0.19" r="0.34" fill="#2080ff" opacity="0.42"/><circle cx="3.00" cy="3.46" r="0.38" fill="#8080ff" opacity="0.37"/><circle cx="2.27" cy="5.33" r="0.38" fill="#2080ff" opacity="0.54"/><circle cx="2.02" cy="-0.82" r="0.50" fill="#2080ff" opacity="0.63"/><circle cx="0.60" cy="3.32" r="0.30" fill="#2080ff" opacity="0.56"/><circle cx="0.65" cy="4.56" r="0.35" fill="#3050ff" opacity="0.41"/><circle cx="-0.60" cy="-5.35" r="0.32" fill="#2080ff" opacity="0.65"/><circle cx="-1.92" cy="-4.32" r="0.59" fill="#8080ff" opacity="0.49"/><circle cx="1.73" cy="-1.60" r="0.53" fill="#7070ff" opacity="0.61"/><ellipse cx="-0.8" cy="-6.5" rx="2.8" ry="3.4" fill="#9090ff" opacity="0.3" filter="url(#bl2)"/><ellipse cx="-0.5" cy="-0.6" rx="3.4" ry="7.0" fill="#6070ff" opacity="0.4" filter="url(#bl)"/><ellipse cx="-0.3" cy="0.4" rx="2.5" ry="5.0" fill="#2a58f5" opacity="0.85" filter="url(#bl)"/><ellipse cx="0" cy="0.4" rx="1.9" ry="3.8" fill="#10b0e0" filter="url(#bl)"/><ellipse cx="0.1" cy="0.2" rx="1.5" ry="3.0" fill="#38d040" filter="url(#bl)"/><ellipse cx="0.1" cy="0" rx="0.9" ry="1.7" fill="#c8d820" filter="url(#bl)"/><ellipse cx="0.1" cy="-0.1" rx="0.55" ry="0.9" fill="#f08000" filter="url(#bl)"/></g>
<text x="239.60" y="311.40" font-size="2.7" font-weight="bold" text-anchor="start" fill="#333" font-family="Liberation Sans" stroke="#333" stroke-width="0.05" >CD44</text>
<text x="240.30" y="315.90" font-size="2.7" font-weight="bold" text-anchor="start" fill="#333" font-family="Liberation Sans" stroke="#333" stroke-width="0.05" >10.5</text>
<line x1="228.00" y1="302.00" x2="229.70" y2="302.00" stroke="#444" stroke-width="0.8" />
<text x="224.20" y="303.10" font-size="2.6" font-weight="normal" text-anchor="start" fill="#555" font-family="Liberation Sans" stroke="#555" stroke-width="0.08" >10</text>
<text x="227.10" y="301.50" font-size="1.8" font-weight="normal" text-anchor="start" fill="#555" font-family="Liberation Sans" stroke="#555" stroke-width="0.05" >2</text>
<line x1="228.80" y1="304.20" x2="229.40" y2="304.20" stroke="#888" stroke-width="0.5" />
<line x1="228.80" y1="305.70" x2="229.40" y2="305.70" stroke="#888" stroke-width="0.5" />
<line x1="228.80" y1="306.80" x2="229.40" y2="306.80" stroke="#888" stroke-width="0.5" />
<line x1="228.80" y1="307.60" x2="229.40" y2="307.60" stroke="#888" stroke-width="0.5" />
<line x1="228.00" y1="309.35" x2="229.70" y2="309.35" stroke="#444" stroke-width="0.8" />
<text x="224.20" y="310.45" font-size="2.6" font-weight="normal" text-anchor="start" fill="#555" font-family="Liberation Sans" stroke="#555" stroke-width="0.08" >10</text>
<text x="227.10" y="308.85" font-size="1.8" font-weight="normal" text-anchor="start" fill="#555" font-family="Liberation Sans" stroke="#555" stroke-width="0.05" >2</text>
<line x1="228.80" y1="311.55" x2="229.40" y2="311.55" stroke="#888" stroke-width="0.5" />
<line x1="228.80" y1="313.05" x2="229.40" y2="313.05" stroke="#888" stroke-width="0.5" />
<line x1="228.80" y1="314.15" x2="229.40" y2="314.15" stroke="#888" stroke-width="0.5" />
<line x1="228.80" y1="314.95" x2="229.40" y2="314.95" stroke="#888" stroke-width="0.5" />
<line x1="228.00" y1="316.70" x2="229.70" y2="316.70" stroke="#444" stroke-width="0.8" />
<text x="224.20" y="317.80" font-size="2.6" font-weight="normal" text-anchor="start" fill="#555" font-family="Liberation Sans" stroke="#555" stroke-width="0.08" >10</text>
<text x="227.10" y="316.20" font-size="1.8" font-weight="normal" text-anchor="start" fill="#555" font-family="Liberation Sans" stroke="#555" stroke-width="0.05" >2</text>
<line x1="228.80" y1="318.90" x2="229.40" y2="318.90" stroke="#888" stroke-width="0.5" />
<line x1="228.80" y1="320.40" x2="229.40" y2="320.40" stroke="#888" stroke-width="0.5" />
<line x1="228.80" y1="321.50" x2="229.40" y2="321.50" stroke="#888" stroke-width="0.5" />
<line x1="228.80" y1="322.30" x2="229.40" y2="322.30" stroke="#888" stroke-width="0.5" />
<line x1="228.00" y1="324.05" x2="229.70" y2="324.05" stroke="#444" stroke-width="0.8" />
<text x="224.20" y="325.15" font-size="2.6" font-weight="normal" text-anchor="start" fill="#555" font-family="Liberation Sans" stroke="#555" stroke-width="0.08" >10</text>
<text x="227.10" y="323.55" font-size="1.8" font-weight="normal" text-anchor="start" fill="#555" font-family="Liberation Sans" stroke="#555" stroke-width="0.05" >2</text>
<line x1="228.80" y1="326.25" x2="229.40" y2="326.25" stroke="#888" stroke-width="0.5" />
<line x1="228.80" y1="327.75" x2="229.40" y2="327.75" stroke="#888" stroke-width="0.5" />
<line x1="228.80" y1="328.85" x2="229.40" y2="328.85" stroke="#888" stroke-width="0.5" />
<line x1="228.80" y1="329.65" x2="229.40" y2="329.65" stroke="#888" stroke-width="0.5" />
<line x1="228.00" y1="331.40" x2="229.70" y2="331.40" stroke="#444" stroke-width="0.8" />
<text x="224.20" y="332.50" font-size="2.6" font-weight="normal" text-anchor="start" fill="#555" font-family="Liberation Sans" stroke="#555" stroke-width="0.08" >10</text>
<text x="227.10" y="330.90" font-size="1.8" font-weight="normal" text-anchor="start" fill="#555" font-family="Liberation Sans" stroke="#555" stroke-width="0.05" >2</text>
<line x1="228.80" y1="333.60" x2="229.40" y2="333.60" stroke="#888" stroke-width="0.5" />
<line x1="228.80" y1="335.10" x2="229.40" y2="335.10" stroke="#888" stroke-width="0.5" />
<line x1="228.80" y1="336.20" x2="229.40" y2="336.20" stroke="#888" stroke-width="0.5" />
<line x1="228.80" y1="337.00" x2="229.40" y2="337.00" stroke="#888" stroke-width="0.5" />
<line x1="228.00" y1="338.75" x2="229.70" y2="338.75" stroke="#444" stroke-width="0.8" />
<text x="224.20" y="339.85" font-size="2.6" font-weight="normal" text-anchor="start" fill="#555" font-family="Liberation Sans" stroke="#555" stroke-width="0.08" >10</text>
<text x="227.10" y="338.25" font-size="1.8" font-weight="normal" text-anchor="start" fill="#555" font-family="Liberation Sans" stroke="#555" stroke-width="0.05" >2</text>
<line x1="228.80" y1="340.95" x2="229.40" y2="340.95" stroke="#888" stroke-width="0.5" />
<line x1="228.80" y1="342.45" x2="229.40" y2="342.45" stroke="#888" stroke-width="0.5" />
<line x1="228.80" y1="343.55" x2="229.40" y2="343.55" stroke="#888" stroke-width="0.5" />
<line x1="228.80" y1="344.35" x2="229.40" y2="344.35" stroke="#888" stroke-width="0.5" />
<line x1="228.00" y1="346.10" x2="229.70" y2="346.10" stroke="#444" stroke-width="0.8" />
<text x="224.20" y="347.20" font-size="2.6" font-weight="normal" text-anchor="start" fill="#555" font-family="Liberation Sans" stroke="#555" stroke-width="0.08" >10</text>
<text x="227.10" y="345.60" font-size="1.8" font-weight="normal" text-anchor="start" fill="#555" font-family="Liberation Sans" stroke="#555" stroke-width="0.05" >2</text>
<line x1="228.80" y1="348.30" x2="229.40" y2="348.30" stroke="#888" stroke-width="0.5" />
<line x1="228.80" y1="349.80" x2="229.40" y2="349.80" stroke="#888" stroke-width="0.5" />
<line x1="228.80" y1="350.90" x2="229.40" y2="350.90" stroke="#888" stroke-width="0.5" />
<line x1="228.80" y1="351.70" x2="229.40" y2="351.70" stroke="#888" stroke-width="0.5" />
<line x1="228.00" y1="353.45" x2="229.70" y2="353.45" stroke="#444" stroke-width="0.8" />
<text x="224.20" y="354.55" font-size="2.6" font-weight="normal" text-anchor="start" fill="#555" font-family="Liberation Sans" stroke="#555" stroke-width="0.08" >10</text>
<text x="227.10" y="352.95" font-size="1.8" font-weight="normal" text-anchor="start" fill="#555" font-family="Liberation Sans" stroke="#555" stroke-width="0.05" >2</text>
<line x1="232.40" y1="355.20" x2="232.40" y2="356.90" stroke="#444" stroke-width="0.8" />
<text x="230.60" y="359.10" font-size="2.6" font-weight="normal" text-anchor="start" fill="#555" font-family="Liberation Sans" stroke="#555" stroke-width="0.08" >10</text>
<text x="233.50" y="357.50" font-size="1.8" font-weight="normal" text-anchor="start" fill="#555" font-family="Liberation Sans" stroke="#555" stroke-width="0.05" >2</text>
<line x1="236.60" y1="355.50" x2="236.60" y2="356.20" stroke="#888" stroke-width="0.5" />
<line x1="239.10" y1="355.50" x2="239.10" y2="356.20" stroke="#888" stroke-width="0.5" />
<line x1="241.00" y1="355.50" x2="241.00" y2="356.20" stroke="#888" stroke-width="0.5" />
<line x1="242.50" y1="355.50" x2="242.50" y2="356.20" stroke="#888" stroke-width="0.5" />
<line x1="243.70" y1="355.50" x2="243.70" y2="356.20" stroke="#888" stroke-width="0.5" />
<line x1="244.70" y1="355.50" x2="244.70" y2="356.20" stroke="#888" stroke-width="0.5" />
<line x1="246.40" y1="355.20" x2="246.40" y2="356.90" stroke="#444" stroke-width="0.8" />
<text x="244.60" y="359.10" font-size="2.6" font-weight="normal" text-anchor="start" fill="#555" font-family="Liberation Sans" stroke="#555" stroke-width="0.08" >10</text>
<text x="247.50" y="357.50" font-size="1.8" font-weight="normal" text-anchor="start" fill="#555" font-family="Liberation Sans" stroke="#555" stroke-width="0.05" >2</text>
<line x1="250.60" y1="355.50" x2="250.60" y2="356.20" stroke="#888" stroke-width="0.5" />
<line x1="253.10" y1="355.50" x2="253.10" y2="356.20" stroke="#888" stroke-width="0.5" />
<line x1="255.00" y1="355.50" x2="255.00" y2="356.20" stroke="#888" stroke-width="0.5" />
<line x1="256.50" y1="355.50" x2="256.50" y2="356.20" stroke="#888" stroke-width="0.5" />
<line x1="257.70" y1="355.50" x2="257.70" y2="356.20" stroke="#888" stroke-width="0.5" />
<line x1="258.70" y1="355.50" x2="258.70" y2="356.20" stroke="#888" stroke-width="0.5" />
<line x1="260.40" y1="355.20" x2="260.40" y2="356.90" stroke="#444" stroke-width="0.8" />
<text x="258.60" y="359.10" font-size="2.6" font-weight="normal" text-anchor="start" fill="#555" font-family="Liberation Sans" stroke="#555" stroke-width="0.08" >10</text>
<text x="261.50" y="357.50" font-size="1.8" font-weight="normal" text-anchor="start" fill="#555" font-family="Liberation Sans" stroke="#555" stroke-width="0.05" >2</text>
<line x1="264.60" y1="355.50" x2="264.60" y2="356.20" stroke="#888" stroke-width="0.5" />
<line x1="267.10" y1="355.50" x2="267.10" y2="356.20" stroke="#888" stroke-width="0.5" />
<line x1="269.00" y1="355.50" x2="269.00" y2="356.20" stroke="#888" stroke-width="0.5" />
<line x1="270.50" y1="355.50" x2="270.50" y2="356.20" stroke="#888" stroke-width="0.5" />
<line x1="271.70" y1="355.50" x2="271.70" y2="356.20" stroke="#888" stroke-width="0.5" />
<line x1="272.70" y1="355.50" x2="272.70" y2="356.20" stroke="#888" stroke-width="0.5" />
<line x1="274.40" y1="355.20" x2="274.40" y2="356.90" stroke="#444" stroke-width="0.8" />
<text x="272.60" y="359.10" font-size="2.6" font-weight="normal" text-anchor="start" fill="#555" font-family="Liberation Sans" stroke="#555" stroke-width="0.08" >10</text>
<text x="275.50" y="357.50" font-size="1.8" font-weight="normal" text-anchor="start" fill="#555" font-family="Liberation Sans" stroke="#555" stroke-width="0.05" >2</text>
<rect x="293.20" y="298.90" width="55.90" height="56.00" fill="#fff" stroke="#b0b0b0" stroke-width="0.9" />
<text x="321.45" y="294.40" font-size="7.6" font-weight="normal" text-anchor="middle" fill="#111" font-family="Liberation Sans" stroke="#111" stroke-width="0.12" >Multivalent</text>
<rect x="313.40" y="307.60" width="25.40" height="14.90" fill="none" stroke="#8a8a8a" stroke-width="0.8" />
<g transform="translate(326.30,324.40) scale(1.1)"><circle cx="-2.17" cy="2.16" r="0.55" fill="#2080ff" opacity="0.29"/><circle cx="-1.24" cy="-5.69" r="0.37" fill="#8080ff" opacity="0.53"/><circle cx="1.92" cy="2.87" r="0.45" fill="#3050ff" opacity="0.39"/><circle cx="3.13" cy="-0.97" r="0.40" fill="#8080ff" opacity="0.27"/><circle cx="0.38" cy="1.42" r="0.42" fill="#7070ff" opacity="0.34"/><circle cx="-1.99" cy="-9.45" r="0.47" fill="#2080ff" opacity="0.43"/><circle cx="-1.38" cy="4.10" r="0.42" fill="#3050ff" opacity="0.30"/><circle cx="1.53" cy="-3.85" r="0.54" fill="#8080ff" opacity="0.45"/><circle cx="0.29" cy="-5.80" r="0.40" fill="#5060ff" opacity="0.30"/><circle cx="1.51" cy="-8.80" r="0.37" fill="#3050ff" opacity="0.27"/><circle cx="3.55" cy="-3.89" r="0.55" fill="#2080ff" opacity="0.47"/><circle cx="-0.48" cy="-7.54" r="0.45" fill="#7070ff" opacity="0.53"/><circle cx="3.41" cy="-3.82" r="0.36" fill="#8080ff" opacity="0.35"/><circle cx="-1.80" cy="-7.01" r="0.32" fill="#8080ff" opacity="0.46"/><circle cx="-2.20" cy="6.31" r="0.39" fill="#8080ff" opacity="0.62"/><circle cx="-2.53" cy="-3.48" r="0.60" fill="#7070ff" opacity="0.42"/><circle cx="-4.33" cy="-1.24" r="0.50" fill="#5060ff" opacity="0.45"/><circle cx="0.60" cy="0.98" r="0.42" fill="#8080ff" opacity="0.46"/><circle cx="-1.27" cy="-7.00" r="0.32" fill="#5060ff" opacity="0.52"/><circle cx="-4.44" cy="-3.97" r="0.44" fill="#7070ff" opacity="0.59"/><circle cx="0.89" cy="-5.35" r="0.57" fill="#2080ff" opacity="0.54"/><circle cx="2.48" cy="-2.85" r="0.43" fill="#2080ff" opacity="0.43"/><circle cx="-2.60" cy="-0.57" r="0.50" fill="#8080ff" opacity="0.42"/><circle cx="-4.07" cy="-5.94" r="0.58" fill="#5060ff" opacity="0.36"/><circle cx="3.00" cy="-3.86" r="0.46" fill="#2080ff" opacity="0.25"/><circle cx="0.89" cy="4.27" r="0.53" fill="#5060ff" opacity="0.35"/><circle cx="-1.18" cy="-8.01" r="0.35" fill="#8080ff" opacity="0.58"/><circle cx="-3.74" cy="2.93" r="0.40" fill="#7070ff" opacity="0.42"/><circle cx="3.78" cy="0.32" r="0.59" fill="#3050ff" opacity="0.57"/><circle cx="-1.26" cy="5.27" r="0.43" fill="#8080ff" opacity="0.27"/><circle cx="-2.39" cy="-5.13" r="0.52" fill="#3050ff" opacity="0.30"/><circle cx="0.80" cy="6.66" r="0.45" fill="#5060ff" opacity="0.31"/><circle cx="-1.53" cy="3.15" r="0.47" fill="#3050ff" opacity="0.54"/><circle cx="2.38" cy="-3.21" r="0.55" fill="#7070ff" opacity="0.43"/><circle cx="0.24" cy="4.21" r="0.34" fill="#7070ff" opacity="0.28"/><circle cx="-0.53" cy="-5.60" r="0.51" fill="#3050ff" opacity="0.43"/><circle cx="0.63" cy="-9.13" r="0.57" fill="#5060ff" opacity="0.27"/><circle cx="-3.81" cy="-0.98" r="0.57" fill="#7070ff" opacity="0.59"/><circle cx="2.66" cy="-3.14" r="0.39" fill="#2080ff" opacity="0.51"/><circle cx="-0.42" cy="3.05" r="0.57" fill="#3050ff" opacity="0.53"/><circle cx="2.63" cy="-6.33" r="0.33" fill="#2080ff" opacity="0.39"/><circle cx="-3.14" cy="-2.94" r="0.57" fill="#5060ff" opacity="0.57"/><circle cx="2.44" cy="1.70" r="0.43" fill="#5060ff" opacity="0.54"/><circle cx="0.74" cy="2.73" r="0.52" fill="#8080ff" opacity="0.53"/><circle cx="2.85" cy="1.35" r="0.48" fill="#3050ff" opacity="0.36"/><circle cx="-2.61" cy="4.69" r="0.58" fill="#2080ff" opacity="0.54"/><circle cx="-1.43" cy="-6.28" r="0.34" fill="#3050ff" opacity="0.35"/><circle cx="-1.93" cy="-4.47" r="0.36" fill="#3050ff" opacity="0.60"/><circle cx="1.07" cy="-5.31" r="0.48" fill="#8080ff" opacity="0.34"/><circle cx="-4.17" cy="-4.30" r="0.46" fill="#7070ff" opacity="0.61"/><circle cx="-4.09" cy="-0.16" r="0.54" fill="#7070ff" opacity="0.36"/><circle cx="-3.55" cy="-2.20" r="0.58" fill="#5060ff" opacity="0.53"/><circle cx="0.83" cy="3.63" r="0.48" fill="#3050ff" opacity="0.35"/><circle cx="0.77" cy="5.24" r="0.41" fill="#7070ff" opacity="0.49"/><circle cx="2.05" cy="1.22" r="0.44" fill="#2080ff" opacity="0.64"/><circle cx="-0.60" cy="5.96" r="0.51" fill="#3050ff" opacity="0.49"/><circle cx="1.09" cy="-2.66" r="0.47" fill="#3050ff" opacity="0.59"/><circle cx="0.78" cy="0.38" r="0.53" fill="#8080ff" opacity="0.49"/><circle cx="-1.75" cy="4.69" r="0.45" fill="#7070ff" opacity="0.50"/><circle cx="-2.50" cy="3.04" r="0.31" fill="#3050ff" opacity="0.45"/><ellipse cx="-0.8" cy="-6.5" rx="2.8" ry="3.4" fill="#9090ff" opacity="0.3" filter="url(#bl2)"/><ellipse cx="-0.5" cy="-0.6" rx="3.4" ry="7.0" fill="#6070ff" opacity="0.4" filter="url(#bl)"/><ellipse cx="-0.3" cy="0.4" rx="2.5" ry="5.0" fill="#2a58f5" opacity="0.85" filter="url(#bl)"/><ellipse cx="0" cy="0.4" rx="1.9" ry="3.8" fill="#10b0e0" filter="url(#bl)"/><ellipse cx="0.1" cy="0.2" rx="1.5" ry="3.0" fill="#38d040" filter="url(#bl)"/><ellipse cx="0.1" cy="0" rx="0.9" ry="1.7" fill="#c8d820" filter="url(#bl)"/><ellipse cx="0.1" cy="-0.1" rx="0.55" ry="0.9" fill="#f08000" filter="url(#bl)"/></g>
<text x="303.80" y="311.80" font-size="2.7" font-weight="bold" text-anchor="start" fill="#333" font-family="Liberation Sans" stroke="#333" stroke-width="0.05" >CD44</text>
<text x="304.50" y="316.30" font-size="2.7" font-weight="bold" text-anchor="start" fill="#333" font-family="Liberation Sans" stroke="#333" stroke-width="0.05" >16.2</text>
<line x1="291.80" y1="302.10" x2="293.50" y2="302.10" stroke="#444" stroke-width="0.8" />
<text x="288.00" y="303.20" font-size="2.6" font-weight="normal" text-anchor="start" fill="#555" font-family="Liberation Sans" stroke="#555" stroke-width="0.08" >10</text>
<text x="290.90" y="301.60" font-size="1.8" font-weight="normal" text-anchor="start" fill="#555" font-family="Liberation Sans" stroke="#555" stroke-width="0.05" >2</text>
<line x1="292.60" y1="304.30" x2="293.20" y2="304.30" stroke="#888" stroke-width="0.5" />
<line x1="292.60" y1="305.80" x2="293.20" y2="305.80" stroke="#888" stroke-width="0.5" />
<line x1="292.60" y1="306.90" x2="293.20" y2="306.90" stroke="#888" stroke-width="0.5" />
<line x1="292.60" y1="307.70" x2="293.20" y2="307.70" stroke="#888" stroke-width="0.5" />
<line x1="291.80" y1="309.45" x2="293.50" y2="309.45" stroke="#444" stroke-width="0.8" />
<text x="288.00" y="310.55" font-size="2.6" font-weight="normal" text-anchor="start" fill="#555" font-family="Liberation Sans" stroke="#555" stroke-width="0.08" >10</text>
<text x="290.90" y="308.95" font-size="1.8" font-weight="normal" text-anchor="start" fill="#555" font-family="Liberation Sans" stroke="#555" stroke-width="0.05" >2</text>
<line x1="292.60" y1="311.65" x2="293.20" y2="311.65" stroke="#888" stroke-width="0.5" />
<line x1="292.60" y1="313.15" x2="293.20" y2="313.15" stroke="#888" stroke-width="0.5" />
<line x1="292.60" y1="314.25" x2="293.20" y2="314.25" stroke="#888" stroke-width="0.5" />
<line x1="292.60" y1="315.05" x2="293.20" y2="315.05" stroke="#888" stroke-width="0.5" />
<line x1="291.80" y1="316.80" x2="293.50" y2="316.80" stroke="#444" stroke-width="0.8" />
<text x="288.00" y="317.90" font-size="2.6" font-weight="normal" text-anchor="start" fill="#555" font-family="Liberation Sans" stroke="#555" stroke-width="0.08" >10</text>
<text x="290.90" y="316.30" font-size="1.8" font-weight="normal" text-anchor="start" fill="#555" font-family="Liberation Sans" stroke="#555" stroke-width="0.05" >2</text>
<line x1="292.60" y1="319.00" x2="293.20" y2="319.00" stroke="#888" stroke-width="0.5" />
<line x1="292.60" y1="320.50" x2="293.20" y2="320.50" stroke="#888" stroke-width="0.5" />
<line x1="292.60" y1="321.60" x2="293.20" y2="321.60" stroke="#888" stroke-width="0.5" />
<line x1="292.60" y1="322.40" x2="293.20" y2="322.40" stroke="#888" stroke-width="0.5" />
<line x1="291.80" y1="324.15" x2="293.50" y2="324.15" stroke="#444" stroke-width="0.8" />
<text x="288.00" y="325.25" font-size="2.6" font-weight="normal" text-anchor="start" fill="#555" font-family="Liberation Sans" stroke="#555" stroke-width="0.08" >10</text>
<text x="290.90" y="323.65" font-size="1.8" font-weight="normal" text-anchor="start" fill="#555" font-family="Liberation Sans" stroke="#555" stroke-width="0.05" >2</text>
<line x1="292.60" y1="326.35" x2="293.20" y2="326.35" stroke="#888" stroke-width="0.5" />
<line x1="292.60" y1="327.85" x2="293.20" y2="327.85" stroke="#888" stroke-width="0.5" />
<line x1="292.60" y1="328.95" x2="293.20" y2="328.95" stroke="#888" stroke-width="0.5" />
<line x1="292.60" y1="329.75" x2="293.20" y2="329.75" stroke="#888" stroke-width="0.5" />
<line x1="291.80" y1="331.50" x2="293.50" y2="331.50" stroke="#444" stroke-width="0.8" />
<text x="288.00" y="332.60" font-size="2.6" font-weight="normal" text-anchor="start" fill="#555" font-family="Liberation Sans" stroke="#555" stroke-width="0.08" >10</text>
<text x="290.90" y="331.00" font-size="1.8" font-weight="normal" text-anchor="start" fill="#555" font-family="Liberation Sans" stroke="#555" stroke-width="0.05" >2</text>
<line x1="292.60" y1="333.70" x2="293.20" y2="333.70" stroke="#888" stroke-width="0.5" />
<line x1="292.60" y1="335.20" x2="293.20" y2="335.20" stroke="#888" stroke-width="0.5" />
<line x1="292.60" y1="336.30" x2="293.20" y2="336.30" stroke="#888" stroke-width="0.5" />
<line x1="292.60" y1="337.10" x2="293.20" y2="337.10" stroke="#888" stroke-width="0.5" />
<line x1="291.80" y1="338.85" x2="293.50" y2="338.85" stroke="#444" stroke-width="0.8" />
<text x="288.00" y="339.95" font-size="2.6" font-weight="normal" text-anchor="start" fill="#555" font-family="Liberation Sans" stroke="#555" stroke-width="0.08" >10</text>
<text x="290.90" y="338.35" font-size="1.8" font-weight="normal" text-anchor="start" fill="#555" font-family="Liberation Sans" stroke="#555" stroke-width="0.05" >2</text>
<line x1="292.60" y1="341.05" x2="293.20" y2="341.05" stroke="#888" stroke-width="0.5" />
<line x1="292.60" y1="342.55" x2="293.20" y2="342.55" stroke="#888" stroke-width="0.5" />
<line x1="292.60" y1="343.65" x2="293.20" y2="343.65" stroke="#888" stroke-width="0.5" />
<line x1="292.60" y1="344.45" x2="293.20" y2="344.45" stroke="#888" stroke-width="0.5" />
<line x1="291.80" y1="346.20" x2="293.50" y2="346.20" stroke="#444" stroke-width="0.8" />
<text x="288.00" y="347.30" font-size="2.6" font-weight="normal" text-anchor="start" fill="#555" font-family="Liberation Sans" stroke="#555" stroke-width="0.08" >10</text>
<text x="290.90" y="345.70" font-size="1.8" font-weight="normal" text-anchor="start" fill="#555" font-family="Liberation Sans" stroke="#555" stroke-width="0.05" >2</text>
<line x1="292.60" y1="348.40" x2="293.20" y2="348.40" stroke="#888" stroke-width="0.5" />
<line x1="292.60" y1="349.90" x2="293.20" y2="349.90" stroke="#888" stroke-width="0.5" />
<line x1="292.60" y1="351.00" x2="293.20" y2="351.00" stroke="#888" stroke-width="0.5" />
<line x1="292.60" y1="351.80" x2="293.20" y2="351.80" stroke="#888" stroke-width="0.5" />
<line x1="291.80" y1="353.55" x2="293.50" y2="353.55" stroke="#444" stroke-width="0.8" />
<text x="288.00" y="354.65" font-size="2.6" font-weight="normal" text-anchor="start" fill="#555" font-family="Liberation Sans" stroke="#555" stroke-width="0.08" >10</text>
<text x="290.90" y="353.05" font-size="1.8" font-weight="normal" text-anchor="start" fill="#555" font-family="Liberation Sans" stroke="#555" stroke-width="0.05" >2</text>
<line x1="296.20" y1="354.60" x2="296.20" y2="356.30" stroke="#444" stroke-width="0.8" />
<text x="294.40" y="358.50" font-size="2.6" font-weight="normal" text-anchor="start" fill="#555" font-family="Liberation Sans" stroke="#555" stroke-width="0.08" >10</text>
<text x="297.30" y="356.90" font-size="1.8" font-weight="normal" text-anchor="start" fill="#555" font-family="Liberation Sans" stroke="#555" stroke-width="0.05" >2</text>
<line x1="300.40" y1="354.90" x2="300.40" y2="355.60" stroke="#888" stroke-width="0.5" />
<line x1="302.90" y1="354.90" x2="302.90" y2="355.60" stroke="#888" stroke-width="0.5" />
<line x1="304.80" y1="354.90" x2="304.80" y2="355.60" stroke="#888" stroke-width="0.5" />
<line x1="306.30" y1="354.90" x2="306.30" y2="355.60" stroke="#888" stroke-width="0.5" />
<line x1="307.50" y1="354.90" x2="307.50" y2="355.60" stroke="#888" stroke-width="0.5" />
<line x1="308.50" y1="354.90" x2="308.50" y2="355.60" stroke="#888" stroke-width="0.5" />
<line x1="310.20" y1="354.60" x2="310.20" y2="356.30" stroke="#444" stroke-width="0.8" />
<text x="308.40" y="358.50" font-size="2.6" font-weight="normal" text-anchor="start" fill="#555" font-family="Liberation Sans" stroke="#555" stroke-width="0.08" >10</text>
<text x="311.30" y="356.90" font-size="1.8" font-weight="normal" text-anchor="start" fill="#555" font-family="Liberation Sans" stroke="#555" stroke-width="0.05" >2</text>
<line x1="314.40" y1="354.90" x2="314.40" y2="355.60" stroke="#888" stroke-width="0.5" />
<line x1="316.90" y1="354.90" x2="316.90" y2="355.60" stroke="#888" stroke-width="0.5" />
<line x1="318.80" y1="354.90" x2="318.80" y2="355.60" stroke="#888" stroke-width="0.5" />
<line x1="320.30" y1="354.90" x2="320.30" y2="355.60" stroke="#888" stroke-width="0.5" />
<line x1="321.50" y1="354.90" x2="321.50" y2="355.60" stroke="#888" stroke-width="0.5" />
<line x1="322.50" y1="354.90" x2="322.50" y2="355.60" stroke="#888" stroke-width="0.5" />
<line x1="324.20" y1="354.60" x2="324.20" y2="356.30" stroke="#444" stroke-width="0.8" />
<text x="322.40" y="358.50" font-size="2.6" font-weight="normal" text-anchor="start" fill="#555" font-family="Liberation Sans" stroke="#555" stroke-width="0.08" >10</text>
<text x="325.30" y="356.90" font-size="1.8" font-weight="normal" text-anchor="start" fill="#555" font-family="Liberation Sans" stroke="#555" stroke-width="0.05" >2</text>
<line x1="328.40" y1="354.90" x2="328.40" y2="355.60" stroke="#888" stroke-width="0.5" />
<line x1="330.90" y1="354.90" x2="330.90" y2="355.60" stroke="#888" stroke-width="0.5" />
<line x1="332.80" y1="354.90" x2="332.80" y2="355.60" stroke="#888" stroke-width="0.5" />
<line x1="334.30" y1="354.90" x2="334.30" y2="355.60" stroke="#888" stroke-width="0.5" />
<line x1="335.50" y1="354.90" x2="335.50" y2="355.60" stroke="#888" stroke-width="0.5" />
<line x1="336.50" y1="354.90" x2="336.50" y2="355.60" stroke="#888" stroke-width="0.5" />
<line x1="338.20" y1="354.60" x2="338.20" y2="356.30" stroke="#444" stroke-width="0.8" />
<text x="336.40" y="358.50" font-size="2.6" font-weight="normal" text-anchor="start" fill="#555" font-family="Liberation Sans" stroke="#555" stroke-width="0.08" >10</text>
<text x="339.30" y="356.90" font-size="1.8" font-weight="normal" text-anchor="start" fill="#555" font-family="Liberation Sans" stroke="#555" stroke-width="0.05" >2</text>
<line x1="27.60" y1="303.50" x2="27.60" y2="351.00" stroke="#9a9a9a" stroke-width="0.9" />
<path d="M27.6,299.7 L25.7,303.8 L29.5,303.8 Z" fill="#111"/>
<text x="26.10" y="328.70" font-size="7.2" font-weight="normal" text-anchor="middle" fill="#111" font-family="Liberation Sans" stroke="#111" stroke-width="0.15" transform="rotate(-90 26.10 328.70)" >CD44</text>
<line x1="38.00" y1="364.20" x2="341.50" y2="364.20" stroke="#9a9a9a" stroke-width="0.9" />
<path d="M344.6,364.3 L340.8,362.4 L340.8,366.2 Z" fill="#111"/>
<text x="181.90" y="372.30" font-size="7.4" font-weight="normal" text-anchor="start" fill="#111" font-family="Liberation Sans" stroke="#111" stroke-width="0.15" >CD4</text>
<text x="10.60" y="393.30" font-size="8.4" font-weight="bold" text-anchor="start" fill="#000" font-family="Liberation Sans" >E</text>
<line x1="42.20" y1="400.40" x2="42.20" y2="501.30" stroke="#666" stroke-width="0.9" />
<line x1="40.20" y1="501.30" x2="42.20" y2="501.30" stroke="#666" stroke-width="0.9" />
<text x="39.00" y="503.32" font-size="5.6" font-weight="bold" text-anchor="end" fill="#262626" font-family="Liberation Sans" stroke="#262626" stroke-width="0.1" >0</text>
<line x1="40.20" y1="476.10" x2="42.20" y2="476.10" stroke="#666" stroke-width="0.9" />
<text x="39.00" y="478.12" font-size="5.6" font-weight="bold" text-anchor="end" fill="#262626" font-family="Liberation Sans" stroke="#262626" stroke-width="0.1" >10</text>
<line x1="40.20" y1="450.90" x2="42.20" y2="450.90" stroke="#666" stroke-width="0.9" />
<text x="39.00" y="452.92" font-size="5.6" font-weight="bold" text-anchor="end" fill="#262626" font-family="Liberation Sans" stroke="#262626" stroke-width="0.1" >20</text>
<line x1="40.20" y1="425.70" x2="42.20" y2="425.70" stroke="#666" stroke-width="0.9" />
<text x="39.00" y="427.72" font-size="5.6" font-weight="bold" text-anchor="end" fill="#262626" font-family="Liberation Sans" stroke="#262626" stroke-width="0.1" >30</text>
<line x1="40.20" y1="400.50" x2="42.20" y2="400.50" stroke="#666" stroke-width="0.9" />
<text x="39.00" y="402.52" font-size="5.6" font-weight="bold" text-anchor="end" fill="#262626" font-family="Liberation Sans" stroke="#262626" stroke-width="0.1" >40</text>
<line x1="40.20" y1="501.30" x2="119.20" y2="501.30" stroke="#666" stroke-width="0.9" />
<line x1="50.50" y1="476.30" x2="50.50" y2="473.50" stroke="#4d4d4d" stroke-width="0.9" />
<line x1="48.00" y1="473.50" x2="53.00" y2="473.50" stroke="#4d4d4d" stroke-width="0.9" />
<rect x="44.60" y="476.30" width="11.80" height="25.00" fill="#c9dcf5" stroke="#4d4d4d" stroke-width="0.9" />
<line x1="65.80" y1="465.10" x2="65.80" y2="459.60" stroke="#4d4d4d" stroke-width="0.9" />
<line x1="63.30" y1="459.60" x2="68.30" y2="459.60" stroke="#4d4d4d" stroke-width="0.9" />
<rect x="59.90" y="465.10" width="11.80" height="36.20" fill="#c9dcf5" stroke="#4d4d4d" stroke-width="0.9" />
<line x1="81.00" y1="456.00" x2="81.00" y2="452.50" stroke="#4d4d4d" stroke-width="0.9" />
<line x1="78.50" y1="452.50" x2="83.50" y2="452.50" stroke="#4d4d4d" stroke-width="0.9" />
<rect x="75.10" y="456.00" width="11.80" height="45.30" fill="#c9dcf5" stroke="#4d4d4d" stroke-width="0.9" />
<line x1="96.50" y1="450.80" x2="96.50" y2="447.20" stroke="#4d4d4d" stroke-width="0.9" />
<line x1="94.00" y1="447.20" x2="99.00" y2="447.20" stroke="#4d4d4d" stroke-width="0.9" />
<rect x="90.60" y="450.80" width="11.80" height="50.50" fill="#c9dcf5" stroke="#4d4d4d" stroke-width="0.9" />
<line x1="112.00" y1="426.90" x2="112.00" y2="420.30" stroke="#4d4d4d" stroke-width="0.9" />
<line x1="109.50" y1="420.30" x2="114.50" y2="420.30" stroke="#4d4d4d" stroke-width="0.9" />
<rect x="106.10" y="426.90" width="11.80" height="74.40" fill="#c9dcf5" stroke="#4d4d4d" stroke-width="0.9" />
<line x1="50.50" y1="501.30" x2="50.50" y2="504.10" stroke="#666" stroke-width="0.9" />
<line x1="65.80" y1="501.30" x2="65.80" y2="504.10" stroke="#666" stroke-width="0.9" />
<line x1="81.00" y1="501.30" x2="81.00" y2="504.10" stroke="#666" stroke-width="0.9" />
<line x1="96.50" y1="501.30" x2="96.50" y2="504.10" stroke="#666" stroke-width="0.9" />
<line x1="112.00" y1="501.30" x2="112.00" y2="504.10" stroke="#666" stroke-width="0.9" />
<text x="52.90" y="512.10" font-size="6.9" font-weight="bold" text-anchor="end" fill="#262626" font-family="Liberation Sans" stroke="#262626" stroke-width="0.2" transform="rotate(-45 52.90 512.10)" >Control</text>
<text x="68.20" y="512.10" font-size="6.9" font-weight="bold" text-anchor="end" fill="#262626" font-family="Liberation Sans" stroke="#262626" stroke-width="0.2" transform="rotate(-45 68.20 512.10)" >Addavax</text>
<text x="83.40" y="512.10" font-size="6.9" font-weight="bold" text-anchor="end" fill="#262626" font-family="Liberation Sans" stroke="#262626" stroke-width="0.2" transform="rotate(-45 83.40 512.10)" >Spike-His</text>
<text x="98.90" y="512.10" font-size="6.9" font-weight="bold" text-anchor="end" fill="#262626" font-family="Liberation Sans" stroke="#262626" stroke-width="0.2" transform="rotate(-45 98.90 512.10)" >WTSpike-HPF</text>
<text x="114.40" y="512.10" font-size="6.9" font-weight="bold" text-anchor="end" fill="#262626" font-family="Liberation Sans" stroke="#262626" stroke-width="0.2" transform="rotate(-45 114.40 512.10)" >Multivalent</text>
<path d="M50.20,400.40 L50.20,399.10 L111.50,399.10 L111.50,400.40" fill="none" stroke="#666" stroke-width="0.7"/>
<circle cx="77.85" cy="396.80" r="1.05" fill="#333"/>
<circle cx="80.85" cy="396.80" r="1.05" fill="#333"/>
<circle cx="83.85" cy="396.80" r="1.05" fill="#333"/>
<path d="M50.20,405.40 L50.20,404.10 L96.20,404.10 L96.20,405.40" fill="none" stroke="#666" stroke-width="0.7"/>
<circle cx="71.70" cy="401.80" r="1.05" fill="#333"/>
<circle cx="74.70" cy="401.80" r="1.05" fill="#333"/>
<path d="M96.20,405.40 L96.20,404.10 L111.50,404.10 L111.50,405.40" fill="none" stroke="#666" stroke-width="0.7"/>
<circle cx="103.85" cy="401.80" r="1.05" fill="#333"/>
<path d="M50.20,410.90 L50.20,409.60 L80.60,409.60 L80.60,410.90" fill="none" stroke="#666" stroke-width="0.7"/>
<circle cx="65.40" cy="407.30" r="1.05" fill="#333"/>
<path d="M80.60,410.90 L80.60,409.60 L111.50,409.60 L111.50,410.90" fill="none" stroke="#666" stroke-width="0.7"/>
<circle cx="94.55" cy="407.30" r="1.05" fill="#333"/>
<circle cx="97.55" cy="407.30" r="1.05" fill="#333"/>
<path d="M65.00,417.10 L65.00,415.80 L111.50,415.80 L111.50,417.10" fill="none" stroke="#666" stroke-width="0.7"/>
<circle cx="86.75" cy="413.50" r="1.05" fill="#333"/>
<circle cx="89.75" cy="413.50" r="1.05" fill="#333"/>
<text x="27.30" y="451.50" font-size="7.8" font-weight="bold" text-anchor="middle" fill="#262626" font-family="Liberation Sans" stroke="#262626" stroke-width="0.12" transform="rotate(-90 27.30 451.50)" textLength="78" lengthAdjust="spacing">% B220<tspan font-size="5.2" dy="-3.0">+</tspan><tspan dy="3.0">CD38</tspan><tspan font-size="5.2" dy="-3.0">+</tspan><tspan dy="3.0"> cells</tspan></text>
<line x1="157.20" y1="401.60" x2="157.20" y2="502.40" stroke="#666" stroke-width="0.9" />
<line x1="155.20" y1="502.40" x2="157.20" y2="502.40" stroke="#666" stroke-width="0.9" />
<text x="154.00" y="504.42" font-size="5.6" font-weight="bold" text-anchor="end" fill="#262626" font-family="Liberation Sans" stroke="#262626" stroke-width="0.1" >0.0</text>
<line x1="155.20" y1="477.20" x2="157.20" y2="477.20" stroke="#666" stroke-width="0.9" />
<text x="154.00" y="479.22" font-size="5.6" font-weight="bold" text-anchor="end" fill="#262626" font-family="Liberation Sans" stroke="#262626" stroke-width="0.1" >0.2</text>
<line x1="155.20" y1="452.00" x2="157.20" y2="452.00" stroke="#666" stroke-width="0.9" />
<text x="154.00" y="454.02" font-size="5.6" font-weight="bold" text-anchor="end" fill="#262626" font-family="Liberation Sans" stroke="#262626" stroke-width="0.1" >0.4</text>
<line x1="155.20" y1="426.80" x2="157.20" y2="426.80" stroke="#666" stroke-width="0.9" />
<text x="154.00" y="428.82" font-size="5.6" font-weight="bold" text-anchor="end" fill="#262626" font-family="Liberation Sans" stroke="#262626" stroke-width="0.1" >0.6</text>
<line x1="155.20" y1="401.60" x2="157.20" y2="401.60" stroke="#666" stroke-width="0.9" />
<text x="154.00" y="403.62" font-size="5.6" font-weight="bold" text-anchor="end" fill="#262626" font-family="Liberation Sans" stroke="#262626" stroke-width="0.1" >0.8</text>
<line x1="155.20" y1="502.40" x2="234.50" y2="502.40" stroke="#666" stroke-width="0.9" />
<line x1="165.50" y1="482.30" x2="165.50" y2="476.40" stroke="#4d4d4d" stroke-width="0.9" />
<line x1="163.00" y1="476.40" x2="168.00" y2="476.40" stroke="#4d4d4d" stroke-width="0.9" />
<rect x="159.60" y="482.30" width="11.80" height="20.10" fill="#c9dcf5" stroke="#4d4d4d" stroke-width="0.9" />
<line x1="180.50" y1="478.00" x2="180.50" y2="471.60" stroke="#4d4d4d" stroke-width="0.9" />
<line x1="178.00" y1="471.60" x2="183.00" y2="471.60" stroke="#4d4d4d" stroke-width="0.9" />
<rect x="174.60" y="478.00" width="11.80" height="24.40" fill="#c9dcf5" stroke="#4d4d4d" stroke-width="0.9" />
<line x1="196.10" y1="464.40" x2="196.10" y2="455.40" stroke="#4d4d4d" stroke-width="0.9" />
<line x1="193.60" y1="455.40" x2="198.60" y2="455.40" stroke="#4d4d4d" stroke-width="0.9" />
<rect x="190.20" y="464.40" width="11.80" height="38.00" fill="#c9dcf5" stroke="#4d4d4d" stroke-width="0.9" />
<line x1="211.50" y1="461.30" x2="211.50" y2="456.60" stroke="#4d4d4d" stroke-width="0.9" />
<line x1="209.00" y1="456.60" x2="214.00" y2="456.60" stroke="#4d4d4d" stroke-width="0.9" />
<rect x="205.60" y="461.30" width="11.80" height="41.10" fill="#c9dcf5" stroke="#4d4d4d" stroke-width="0.9" />
<line x1="227.30" y1="435.30" x2="227.30" y2="425.80" stroke="#4d4d4d" stroke-width="0.9" />
<line x1="224.80" y1="425.80" x2="229.80" y2="425.80" stroke="#4d4d4d" stroke-width="0.9" />
<rect x="221.40" y="435.30" width="11.80" height="67.10" fill="#c9dcf5" stroke="#4d4d4d" stroke-width="0.9" />
<line x1="165.50" y1="502.40" x2="165.50" y2="505.20" stroke="#666" stroke-width="0.9" />
<line x1="180.50" y1="502.40" x2="180.50" y2="505.20" stroke="#666" stroke-width="0.9" />
<line x1="196.10" y1="502.40" x2="196.10" y2="505.20" stroke="#666" stroke-width="0.9" />
<line x1="211.50" y1="502.40" x2="211.50" y2="505.20" stroke="#666" stroke-width="0.9" />
<line x1="227.30" y1="502.40" x2="227.30" y2="505.20" stroke="#666" stroke-width="0.9" />
<text x="168.50" y="513.00" font-size="6.9" font-weight="bold" text-anchor="end" fill="#262626" font-family="Liberation Sans" stroke="#262626" stroke-width="0.2" transform="rotate(-45 168.50 513.00)" >Control</text>
<text x="183.50" y="513.00" font-size="6.9" font-weight="bold" text-anchor="end" fill="#262626" font-family="Liberation Sans" stroke="#262626" stroke-width="0.2" transform="rotate(-45 183.50 513.00)" >Addavax</text>
<text x="199.10" y="513.00" font-size="6.9" font-weight="bold" text-anchor="end" fill="#262626" font-family="Liberation Sans" stroke="#262626" stroke-width="0.2" transform="rotate(-45 199.10 513.00)" >Spike-His</text>
<text x="214.50" y="513.00" font-size="6.9" font-weight="bold" text-anchor="end" fill="#262626" font-family="Liberation Sans" stroke="#262626" stroke-width="0.2" transform="rotate(-45 214.50 513.00)" >WTSpike-HPF</text>
<text x="230.30" y="513.00" font-size="6.9" font-weight="bold" text-anchor="end" fill="#262626" font-family="Liberation Sans" stroke="#262626" stroke-width="0.2" transform="rotate(-45 230.30 513.00)" >Multivalent</text>
<path d="M165.00,416.10 L165.00,414.80 L226.60,414.80 L226.60,416.10" fill="none" stroke="#666" stroke-width="0.7"/>
<circle cx="194.30" cy="412.50" r="1.05" fill="#333"/>
<circle cx="197.30" cy="412.50" r="1.05" fill="#333"/>
<path d="M180.80,422.30 L180.80,421.00 L226.60,421.00 L226.60,422.30" fill="none" stroke="#666" stroke-width="0.7"/>
<circle cx="202.20" cy="418.70" r="1.05" fill="#333"/>
<circle cx="205.20" cy="418.70" r="1.05" fill="#333"/>
<text x="141.20" y="453.00" font-size="8.3" font-weight="bold" text-anchor="middle" fill="#262626" font-family="Liberation Sans" stroke="#262626" stroke-width="0.1" transform="rotate(-90 141.20 453.00)" >% IgG1<tspan font-size="5.4" dy="-3.1">+</tspan><tspan dy="3.1">B220</tspan><tspan font-size="5.4" dy="-3.1">+</tspan><tspan dy="3.1">CD38</tspan><tspan font-size="5.4" dy="-3.1">+</tspan><tspan dy="3.1"> cells</tspan></text>
</svg>
</body></html>
